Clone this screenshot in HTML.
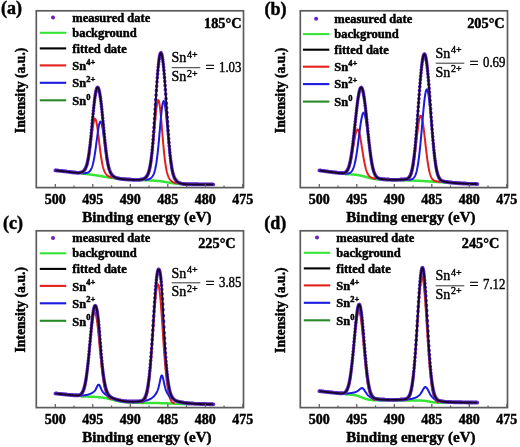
<!DOCTYPE html>
<html><head><meta charset="utf-8"><title>XPS Sn 3d</title>
<style>html,body{margin:0;padding:0;background:#fff;width:520px;height:447px;overflow:hidden}svg{display:block}text{stroke:#000;stroke-width:.45px}.fr text{stroke-width:.4px}</style>
</head><body>
<svg width="520" height="447" viewBox="0 0 520 447" font-family="'Liberation Serif', 'Times New Roman', serif" font-weight="bold" fill="#000">
<rect width="520" height="447" fill="#fff"/>
<g transform="translate(0,0)">
<path d="M80.8,173.52 L81.1,173.54 L81.4,173.57 L81.7,173.59 L82,173.62 L82.3,173.64 L82.6,173.67 L82.9,173.69 L83.2,173.72 L83.5,173.75 L83.8,173.77 L84.1,173.8 L84.4,173.83 L84.7,173.86 L85,173.89 L85.3,173.92 L85.6,173.95 L85.9,173.98 L86.2,174.01 L86.5,174.04 L86.8,174.08 L87.1,174.11 L87.4,174.14 L87.7,174.18 L88,174.21 L88.3,174.25 L88.6,174.28 L88.9,174.32 L89.2,174.36 L89.5,174.4 L89.8,174.43 L90.1,174.47 L90.4,174.51 L90.7,174.55 L91,174.59 L91.3,174.63 L91.6,174.67 L91.9,174.71 L92.2,174.76 L92.5,174.8 L92.8,174.84 L93.1,174.88 L93.4,174.93 L93.7,174.97 L94,175.02 L94.3,175.06 L94.6,175.11 L94.9,175.15 L95.2,175.2 L95.5,175.25 L95.8,175.29 L96.1,175.34 L96.4,175.39 L96.7,175.44 L97,175.49 L97.3,175.54 L97.6,175.59 L97.9,175.63 L98.2,175.68 L98.5,175.73 L98.8,175.78 L99.1,175.83 L99.4,175.89 L99.7,175.94 L100,175.99 L100.3,176.04 L100.6,176.09 L100.9,176.14 L101.2,176.19 L101.5,176.24 L101.8,176.3 L102.1,176.35 L102.4,176.4 L102.7,176.45 L103,176.5 L103.3,176.55 L103.6,176.6 L103.9,176.66 L104.2,176.71 L104.5,176.76 L104.8,176.81 L105.1,176.86 L105.4,176.91 L105.7,176.96 L106,177.01 L106.3,177.06 L106.6,177.11 L106.9,177.16 L107.2,177.21 L107.5,177.26 L107.8,177.31 L108.1,177.36 L108.4,177.41 L108.7,177.46 L109,177.5 L109.3,177.55 L109.6,177.6 L109.9,177.64 L110.2,177.69 L110.5,177.74 L110.8,177.78 L111.1,177.83 L111.4,177.87 L111.7,177.91 L112,177.96 L112.3,178 L112.6,178.04 L112.9,178.09 L113.2,178.13 L113.5,178.17 L113.8,178.21 L114.1,178.25 L114.4,178.29 L114.7,178.33 L115,178.37 L115.3,178.4 L115.6,178.44 L115.9,178.48 L116.2,178.52 L116.5,178.55 L116.8,178.59 L117.1,178.62 L117.4,178.66 L117.7,178.69 L118,178.72 L118.3,178.76 L118.6,178.79 L118.9,178.82 L119.2,178.85 L119.5,178.88 L119.8,178.91 L120.1,178.94 L120.4,178.97 L120.7,179 L121,179.03 L121.3,179.06 L121.6,179.08 L121.9,179.11 L122.2,179.14 L122.5,179.16 L122.8,179.19 L123.1,179.21 L123.4,179.24 L123.7,179.26 L124,179.29 L124.3,179.31 L124.6,179.33 L124.9,179.35 L125.2,179.37 L125.5,179.4 L125.8,179.42 L126.1,179.44 L126.4,179.46 L126.7,179.48 L127,179.5 L127.3,179.52 L127.6,179.53 L127.9,179.55 L128.2,179.57 L128.5,179.59 L128.8,179.6 L129.1,179.62 L129.4,179.64 L129.7,179.65 L130,179.67 L130.3,179.68 L130.6,179.7 L130.9,179.71 L131.2,179.73 L131.5,179.74 L131.8,179.76 L132.1,179.77 L132.4,179.78 L132.7,179.8 L133,179.81 L133.3,179.82 L133.6,179.83 L133.9,179.85 L134.2,179.86 L134.5,179.87 L134.8,179.88 L135.1,179.89 L135.4,179.9 L135.7,179.92 L136,179.93 L136.3,179.94 L136.6,179.95 L136.9,179.96 L137.2,179.97 L137.5,179.98 L137.8,179.99 L138.1,180 L138.4,180.01 L138.7,180.02 L139,180.03 L139.3,180.04 L139.6,180.05 L139.9,180.05 L140.2,180.06 L140.5,180.07 L140.8,180.08 L141.1,180.09 L141.4,180.1 L141.7,180.11 L142,180.12 L142.3,180.13 L142.6,180.14 L142.9,180.14 L143.2,180.15 L143.5,180.16 L143.8,180.17 L144.1,180.18 L144.4,180.19 L144.7,180.2 L145,180.21 L145.3,180.22 L145.6,180.23 L145.9,180.24 L146.2,180.25 L146.5,180.26 L146.8,180.27 L147.1,180.28 L147.4,180.29 L147.7,180.3 L148,180.31 L148.3,180.33 L148.6,180.34 L148.9,180.35 L149.2,180.36 L149.5,180.38 L149.8,180.39 L150.1,180.4 L150.4,180.42 L150.7,180.43 L151,180.45 L151.3,180.46 L151.6,180.48 L151.9,180.49 L152.2,180.51 L152.5,180.53 L152.8,180.55 L153.1,180.56 L153.4,180.58 L153.7,180.6 L154,180.62 L154.3,180.64 L154.6,180.67 L154.9,180.69 L155.2,180.71 L155.5,180.74 L155.8,180.76 L156.1,180.79 L156.4,180.81 L156.7,180.84 L157,180.87 L157.3,180.9 L157.6,180.93 L157.9,180.96 L158.2,180.99 L158.5,181.02 L158.8,181.05 L159.1,181.09 L159.4,181.12 L159.7,181.16 L160,181.19 L160.3,181.23 L160.6,181.27 L160.9,181.31 L161.2,181.35 L161.5,181.39 L161.8,181.43 L162.1,181.48 L162.4,181.52 L162.7,181.57 L163,181.61 L163.3,181.66 L163.6,181.7 L163.9,181.75 L164.2,181.8 L164.5,181.85 L164.8,181.9 L165.1,181.95 L165.4,182 L165.7,182.05 L166,182.1 L166.3,182.15 L166.6,182.2 L166.9,182.25 L167.2,182.3 L167.5,182.36 L167.8,182.41 L168.1,182.46 L168.4,182.51 L168.7,182.56 L169,182.61 L169.3,182.66 L169.6,182.72 L169.9,182.77 L170.2,182.81 L170.5,182.86 L170.8,182.91 L171.1,182.96 L171.4,183.01 L171.7,183.05 L172,183.1 L172.3,183.15 L172.6,183.19 L172.9,183.23 L173.2,183.28 L173.5,183.32 L173.8,183.36 L174.1,183.4 L174.4,183.44 L174.7,183.48 L175,183.51 L175.3,183.55 L175.6,183.58 L175.9,183.62 L176.2,183.65 L176.5,183.68 L176.8,183.72 L177.1,183.75 L177.4,183.78 L177.7,183.8 L178,183.83 L178.3,183.86 L178.6,183.89 L178.9,183.91 L179.2,183.93 L179.5,183.96 L179.8,183.98 L180.1,184 L180.4,184.02 L180.7,184.04 L181,184.06 L181.3,184.08 L181.6,184.1 L181.9,184.12 L182.2,184.13 L182.5,184.15 L182.8,184.16 L183.1,184.18 L183.4,184.19 L183.7,184.21 L184,184.22 L184.3,184.23 L184.6,184.24 L184.9,184.26 L185.2,184.27 L185.5,184.28 L185.8,184.29 L186.1,184.3 L186.4,184.31 L186.7,184.32 L187,184.32 L187.3,184.33 L187.6,184.34 L187.9,184.35 L188.2,184.35 L188.5,184.36 L188.8,184.37 L189.1,184.37 L189.4,184.38 L189.7,184.39 L190,184.39" fill="none" stroke="#36e436" stroke-width="2.5"/>
<path d="M77.5,172.86 L77.8,172.87 L78.1,172.88 L78.4,172.89 L78.7,172.89 L79,172.88 L79.3,172.87 L79.6,172.83 L79.9,172.79 L80.2,172.73 L80.5,172.67 L80.8,172.6 L81.1,172.52 L81.4,172.43 L81.7,172.33 L82,172.22 L82.3,172.09 L82.6,171.95 L82.9,171.79 L83.2,171.6 L83.5,171.39 L83.8,171.16 L84.1,170.88 L84.4,170.58 L84.7,170.22 L85,169.82 L85.3,169.36 L85.6,168.84 L85.9,168.25 L86.2,167.58 L86.5,166.82 L86.8,165.96 L87.1,165 L87.4,163.93 L87.7,162.74 L88,161.41 L88.3,159.96 L88.6,158.38 L88.9,156.66 L89.2,154.8 L89.5,152.82 L89.8,150.72 L90.1,148.51 L90.4,146.21 L90.7,143.83 L91,141.4 L91.3,138.94 L91.6,136.49 L91.9,134.07 L92.2,131.72 L92.5,129.46 L92.8,127.35 L93.1,125.4 L93.4,123.66 L93.7,122.14 L94,120.89 L94.3,119.93 L94.6,119.26 L94.9,118.91 L95.2,118.88 L95.5,119.17 L95.8,119.79 L96.1,120.71 L96.4,121.92 L96.7,123.41 L97,125.14 L97.3,127.09 L97.6,129.23 L97.9,131.51 L98.2,133.91 L98.5,136.4 L98.8,138.93 L99.1,141.48 L99.4,144.02 L99.7,146.52 L100,148.95 L100.3,151.29 L100.6,153.53 L100.9,155.66 L101.2,157.66 L101.5,159.54 L101.8,161.27 L102.1,162.87 L102.4,164.34 L102.7,165.68 L103,166.89 L103.3,167.99 L103.6,168.98 L103.9,169.87 L104.2,170.66 L104.5,171.37 L104.8,172.01 L105.1,172.57 L105.4,173.08 L105.7,173.54 L106,173.94 L106.3,174.31 L106.6,174.64 L106.9,174.94 L107.2,175.21 L107.5,175.46 L107.8,175.69 L108.1,175.9 L108.4,176.09 L108.7,176.27 L109,176.43 L109.3,176.58 L109.6,176.73 L109.9,176.86 L110.2,176.99 L110.5,177.11 L110.8,177.22 L111.1,177.32 L111.4,177.42 L111.7,177.51 L112,177.6 L112.3,177.68 L112.6,177.76" fill="none" stroke="#e4201c" stroke-width="2"/>
<path d="M139.9,179.77 L140.2,179.75 L140.5,179.71 L140.8,179.68 L141.1,179.63 L141.4,179.58 L141.7,179.53 L142,179.47 L142.3,179.4 L142.6,179.32 L142.9,179.24 L143.2,179.14 L143.5,179.04 L143.8,178.92 L144.1,178.79 L144.4,178.65 L144.7,178.49 L145,178.31 L145.3,178.11 L145.6,177.89 L145.9,177.64 L146.2,177.37 L146.5,177.06 L146.8,176.71 L147.1,176.32 L147.4,175.87 L147.7,175.37 L148,174.8 L148.3,174.15 L148.6,173.42 L148.9,172.59 L149.2,171.65 L149.5,170.59 L149.8,169.4 L150.1,168.07 L150.4,166.58 L150.7,164.92 L151,163.08 L151.3,161.05 L151.6,158.84 L151.9,156.43 L152.2,153.83 L152.5,151.04 L152.8,148.08 L153.1,144.94 L153.4,141.67 L153.7,138.27 L154,134.78 L154.3,131.23 L154.6,127.67 L154.9,124.13 L155.2,120.66 L155.5,117.31 L155.8,114.13 L156.1,111.18 L156.4,108.49 L156.7,106.11 L157,104.09 L157.3,102.45 L157.6,101.24 L157.9,100.48 L158.2,100.17 L158.5,100.32 L158.8,100.94 L159.1,102.01 L159.4,103.52 L159.7,105.43 L160,107.71 L160.3,110.32 L160.6,113.22 L160.9,116.37 L161.2,119.71 L161.5,123.19 L161.8,126.77 L162.1,130.39 L162.4,134.02 L162.7,137.61 L163,141.12 L163.3,144.52 L163.6,147.79 L163.9,150.9 L164.2,153.84 L164.5,156.59 L164.8,159.16 L165.1,161.53 L165.4,163.7 L165.7,165.69 L166,167.5 L166.3,169.13 L166.6,170.61 L166.9,171.93 L167.2,173.11 L167.5,174.17 L167.8,175.11 L168.1,175.95 L168.4,176.7 L168.7,177.37 L169,177.96 L169.3,178.49 L169.6,178.97 L169.9,179.4 L170.2,179.79 L170.5,180.14 L170.8,180.46 L171.1,180.75 L171.4,181.01 L171.7,181.26 L172,181.48 L172.3,181.68 L172.6,181.87 L172.9,182.05 L173.2,182.21 L173.5,182.36 L173.8,182.5 L174.1,182.63 L174.4,182.75 L174.7,182.86 L175,182.97 L175.3,183.07 L175.6,183.15 L175.9,183.24 L176.2,183.32 L176.5,183.39 L176.8,183.45" fill="none" stroke="#e4201c" stroke-width="2"/>
<path d="M82.6,173.4 L82.9,173.4 L83.2,173.39 L83.5,173.38 L83.8,173.36 L84.1,173.34 L84.4,173.31 L84.7,173.28 L85,173.25 L85.3,173.2 L85.6,173.16 L85.9,173.1 L86.2,173.04 L86.5,172.97 L86.8,172.88 L87.1,172.79 L87.4,172.68 L87.7,172.56 L88,172.42 L88.3,172.26 L88.6,172.08 L88.9,171.88 L89.2,171.64 L89.5,171.37 L89.8,171.07 L90.1,170.72 L90.4,170.32 L90.7,169.86 L91,169.35 L91.3,168.76 L91.6,168.09 L91.9,167.34 L92.2,166.5 L92.5,165.56 L92.8,164.51 L93.1,163.34 L93.4,162.06 L93.7,160.65 L94,159.12 L94.3,157.46 L94.6,155.68 L94.9,153.78 L95.2,151.78 L95.5,149.67 L95.8,147.49 L96.1,145.23 L96.4,142.93 L96.7,140.61 L97,138.3 L97.3,136.02 L97.6,133.8 L97.9,131.68 L98.2,129.68 L98.5,127.84 L98.8,126.19 L99.1,124.75 L99.4,123.55 L99.7,122.62 L100,121.96 L100.3,121.59 L100.6,121.52 L100.9,121.75 L101.2,122.28 L101.5,123.1 L101.8,124.19 L102.1,125.54 L102.4,127.12 L102.7,128.91 L103,130.89 L103.3,133.01 L103.6,135.26 L103.9,137.59 L104.2,139.98 L104.5,142.4 L104.8,144.82 L105.1,147.21 L105.4,149.55 L105.7,151.82 L106,154 L106.3,156.08 L106.6,158.05 L106.9,159.9 L107.2,161.63 L107.5,163.23 L107.8,164.71 L108.1,166.06 L108.4,167.3 L108.7,168.42 L109,169.43 L109.3,170.34 L109.6,171.16 L109.9,171.9 L110.2,172.56 L110.5,173.15 L110.8,173.68 L111.1,174.15 L111.4,174.57 L111.7,174.96 L112,175.3 L112.3,175.61 L112.6,175.89 L112.9,176.14 L113.2,176.37 L113.5,176.58 L113.8,176.78 L114.1,176.95 L114.4,177.12 L114.7,177.27 L115,177.41 L115.3,177.54 L115.6,177.67 L115.9,177.78 L116.2,177.89 L116.5,177.99 L116.8,178.08 L117.1,178.17 L117.4,178.25 L117.7,178.33 L118,178.4 L118.3,178.47 L118.6,178.53" fill="none" stroke="#1a1ae0" stroke-width="2"/>
<path d="M144.7,179.95 L145,179.92 L145.3,179.9 L145.6,179.87 L145.9,179.83 L146.2,179.79 L146.5,179.74 L146.8,179.69 L147.1,179.63 L147.4,179.57 L147.7,179.49 L148,179.41 L148.3,179.33 L148.6,179.23 L148.9,179.12 L149.2,179 L149.5,178.86 L149.8,178.71 L150.1,178.55 L150.4,178.36 L150.7,178.16 L151,177.93 L151.3,177.67 L151.6,177.39 L151.9,177.06 L152.2,176.7 L152.5,176.29 L152.8,175.83 L153.1,175.31 L153.4,174.72 L153.7,174.05 L154,173.3 L154.3,172.44 L154.6,171.48 L154.9,170.4 L155.2,169.18 L155.5,167.83 L155.8,166.31 L156.1,164.64 L156.4,162.79 L156.7,160.76 L157,158.55 L157.3,156.16 L157.6,153.58 L157.9,150.83 L158.2,147.9 L158.5,144.83 L158.8,141.62 L159.1,138.29 L159.4,134.89 L159.7,131.44 L160,127.97 L160.3,124.53 L160.6,121.17 L160.9,117.92 L161.2,114.84 L161.5,111.96 L161.8,109.35 L162.1,107.03 L162.4,105.05 L162.7,103.43 L163,102.22 L163.3,101.43 L163.6,101.08 L163.9,101.17 L164.2,101.71 L164.5,102.67 L164.8,104.06 L165.1,105.84 L165.4,107.99 L165.7,110.46 L166,113.22 L166.3,116.23 L166.6,119.45 L166.9,122.81 L167.2,126.28 L167.5,129.82 L167.8,133.37 L168.1,136.91 L168.4,140.38 L168.7,143.77 L169,147.04 L169.3,150.17 L169.6,153.15 L169.9,155.95 L170.2,158.57 L170.5,161.01 L170.8,163.26 L171.1,165.32 L171.4,167.21 L171.7,168.92 L172,170.47 L172.3,171.87 L172.6,173.13 L172.9,174.25 L173.2,175.25 L173.5,176.15 L173.8,176.95 L174.1,177.66 L174.4,178.3 L174.7,178.86 L175,179.37 L175.3,179.82 L175.6,180.22 L175.9,180.59 L176.2,180.92 L176.5,181.22 L176.8,181.49 L177.1,181.73 L177.4,181.96 L177.7,182.16 L178,182.35 L178.3,182.52 L178.6,182.68 L178.9,182.82 L179.2,182.95 L179.5,183.08 L179.8,183.19 L180.1,183.29 L180.4,183.39 L180.7,183.48 L181,183.56 L181.3,183.63 L181.6,183.7 L181.9,183.76 L182.2,183.82 L182.5,183.87" fill="none" stroke="#1a1ae0" stroke-width="2"/>
<path d="M55.3 170.41h0M55.6 170.44h0M55.9 170.47h0M56.2 170.5h0M56.5 170.53h0M56.8 170.56h0M57.1 170.6h0M57.4 170.63h0M57.7 170.66h0M58 170.69h0M58.3 170.72h0M58.6 170.76h0M58.9 170.79h0M59.2 170.82h0M59.5 170.85h0M59.8 170.88h0M60.1 170.92h0M60.4 170.95h0M60.7 170.98h0M61 171.01h0M61.3 171.05h0M61.6 171.08h0M61.9 171.11h0M62.2 171.15h0M62.5 171.18h0M62.8 171.21h0M63.1 171.25h0M63.4 171.28h0M63.7 171.32h0M64 171.35h0M64.3 171.39h0M64.6 171.42h0M64.9 171.45h0M65.2 171.49h0M65.5 171.52h0M65.8 171.56h0M66.1 171.6h0M66.4 171.63h0M66.7 171.67h0M67 171.7h0M67.3 171.74h0M67.6 171.77h0M67.9 171.81h0M68.2 171.85h0M68.5 171.88h0M68.8 171.92h0M69.1 171.96h0M69.4 171.99h0M69.7 172.03h0M70 172.07h0M70.3 172.11h0M70.6 172.14h0M70.9 172.18h0M71.2 172.22h0M71.5 172.25h0M71.8 172.29h0M72.1 172.33h0M72.4 172.36h0M72.7 172.4h0M73 172.44h0M73.3 172.47h0M73.6 172.51h0M73.9 172.54h0M74.2 172.57h0M74.5 172.6h0M74.8 172.64h0M75.1 172.67h0M75.4 172.69h0M75.7 172.72h0M76 172.75h0M76.3 172.77h0M76.6 172.79h0M76.9 172.81h0M77.2 172.82h0M77.5 172.83h0M77.8 172.84h0M78.1 172.85h0M78.4 172.84h0M78.7 172.84h0M79 172.83h0M79.3 172.81h0M79.6 172.76h0M79.9 172.7h0M80.2 172.64h0M80.5 172.56h0M80.8 172.48h0M81.1 172.38h0M81.4 172.27h0M81.7 172.15h0M82 172.02h0M82.3 171.86h0M82.6 171.69h0M82.9 171.49h0M83.2 171.27h0M83.5 171.02h0M83.8 170.74h0M84.1 170.42h0M84.4 170.06h0M84.7 169.65h0M85 169.18h0M85.3 168.65h0M85.6 168.05h0M85.9 167.37h0M86.2 166.61h0M86.5 165.74h0M86.8 164.77h0M87.1 163.68h0M87.4 162.47h0M87.7 161.12h0M88 159.62h0M88.3 157.98h0M88.6 156.18h0M88.9 154.21h0M89.2 152.09h0M89.5 149.8h0M89.8 147.35h0M90.1 144.76h0M90.4 142.02h0M90.7 139.14h0M91 136.16h0M91.3 133.07h0M91.6 129.91h0M91.9 126.7h0M92.2 123.46h0M92.5 120.22h0M92.8 117.01h0M93.1 113.86h0M93.4 110.78h0M93.7 107.82h0M94 104.99h0M94.3 102.32h0M94.6 99.83h0M94.9 97.54h0M95.2 95.46h0M95.5 93.6h0M95.8 91.98h0M96.1 90.6h0M96.4 89.47h0M96.7 88.59h0M97 87.95h0M97.3 87.57h0M97.6 87.44h0M97.9 87.55h0M98.2 87.91h0M98.5 88.51h0M98.8 89.34h0M99.1 90.4h0M99.4 91.69h0M99.7 93.2h0M100 94.92h0M100.3 96.84h0M100.6 98.97h0M100.9 101.27h0M101.2 103.75h0M101.5 106.39h0M101.8 109.16h0M102.1 112.06h0M102.4 115.06h0M102.7 118.14h0M103 121.28h0M103.3 124.45h0M103.6 127.63h0M103.9 130.8h0M104.2 133.93h0M104.5 137.01h0M104.8 140.01h0M105.1 142.92h0M105.4 145.72h0M105.7 148.39h0M106 150.93h0M106.3 153.33h0M106.6 155.58h0M106.9 157.68h0M107.2 159.63h0M107.5 161.43h0M107.8 163.09h0M108.1 164.6h0M108.4 165.98h0M108.7 167.23h0M109 168.36h0M109.3 169.38h0M109.6 170.29h0M109.9 171.12h0M110.2 171.86h0M110.5 172.52h0M110.8 173.11h0M111.1 173.65h0M111.4 174.12h0M111.7 174.55h0M112 174.94h0M112.3 175.29h0M112.6 175.6h0M112.9 175.89h0M113.2 176.15h0M113.5 176.39h0M113.8 176.6h0M114.1 176.8h0M114.4 176.99h0M114.7 177.16h0M115 177.31h0M115.3 177.46h0M115.6 177.59h0M115.9 177.71h0M116.2 177.83h0M116.5 177.94h0M116.8 178.04h0M117.1 178.13h0M117.4 178.22h0M117.7 178.3h0M118 178.38h0M118.3 178.45h0M118.6 178.52h0M118.9 178.58h0M119.2 178.64h0M119.5 178.7h0M119.8 178.75h0M120.1 178.8h0M120.4 178.85h0M120.7 178.89h0M121 178.93h0M121.3 178.97h0M121.6 179.01h0M121.9 179.05h0M122.2 179.08h0M122.5 179.12h0M122.8 179.15h0M123.1 179.18h0M123.4 179.21h0M123.7 179.24h0M124 179.26h0M124.3 179.29h0M124.6 179.31h0M124.9 179.34h0M125.2 179.36h0M125.5 179.39h0M125.8 179.41h0M126.1 179.43h0M126.4 179.45h0M126.7 179.47h0M127 179.49h0M127.3 179.51h0M127.6 179.53h0M127.9 179.55h0M128.2 179.57h0M128.5 179.58h0M128.8 179.6h0M129.1 179.62h0M129.4 179.64h0M129.7 179.65h0M130 179.67h0M130.3 179.68h0M130.6 179.7h0M130.9 179.71h0M131.2 179.73h0M131.5 179.74h0M131.8 179.75h0M132.1 179.76h0M132.4 179.78h0M132.7 179.79h0M133 179.8h0M133.3 179.81h0M133.6 179.82h0M133.9 179.83h0M134.2 179.84h0M134.5 179.85h0M134.8 179.86h0M135.1 179.86h0M135.4 179.87h0M135.7 179.87h0M136 179.88h0M136.3 179.88h0M136.6 179.88h0M136.9 179.88h0M137.2 179.88h0M137.5 179.88h0M137.8 179.87h0M138.1 179.86h0M138.4 179.85h0M138.7 179.84h0M139 179.82h0M139.3 179.8h0M139.6 179.78h0M139.9 179.75h0M140.2 179.72h0M140.5 179.68h0M140.8 179.63h0M141.1 179.58h0M141.4 179.53h0M141.7 179.46h0M142 179.39h0M142.3 179.31h0M142.6 179.22h0M142.9 179.12h0M143.2 179.01h0M143.5 178.89h0M143.8 178.75h0M144.1 178.6h0M144.4 178.42h0M144.7 178.23h0M145 178.02h0M145.3 177.79h0M145.6 177.53h0M145.9 177.23h0M146.2 176.91h0M146.5 176.54h0M146.8 176.13h0M147.1 175.67h0M147.4 175.15h0M147.7 174.56h0M148 173.9h0M148.3 173.15h0M148.6 172.31h0M148.9 171.36h0M149.2 170.28h0M149.5 169.08h0M149.8 167.73h0M150.1 166.21h0M150.4 164.52h0M150.7 162.64h0M151 160.56h0M151.3 158.27h0M151.6 155.75h0M151.9 153h0M152.2 150.02h0M152.5 146.81h0M152.8 143.36h0M153.1 139.69h0M153.4 135.8h0M153.7 131.72h0M154 127.45h0M154.3 123.03h0M154.6 118.48h0M154.9 113.84h0M155.2 109.13h0M155.5 104.4h0M155.8 99.69h0M156.1 95.03h0M156.4 90.46h0M156.7 86.03h0M157 81.77h0M157.3 77.72h0M157.6 73.9h0M157.9 70.35h0M158.2 67.08h0M158.5 64.13h0M158.8 61.51h0M159.1 59.22h0M159.4 57.28h0M159.7 55.7h0M160 54.48h0M160.3 53.62h0M160.6 53.12h0M160.9 52.98h0M161.2 53.2h0M161.5 53.77h0M161.8 54.68h0M162.1 55.94h0M162.4 57.54h0M162.7 59.47h0M163 61.73h0M163.3 64.3h0M163.6 67.16h0M163.9 70.32h0M164.2 73.74h0M164.5 77.42h0M164.8 81.32h0M165.1 85.42h0M165.4 89.69h0M165.7 94.1h0M166 98.62h0M166.3 103.22h0M166.6 107.85h0M166.9 112.49h0M167.2 117.09h0M167.5 121.63h0M167.8 126.08h0M168.1 130.4h0M168.4 134.57h0M168.7 138.58h0M169 142.39h0M169.3 146h0M169.6 149.4h0M169.9 152.58h0M170.2 155.54h0M170.5 158.28h0M170.8 160.8h0M171.1 163.11h0M171.4 165.21h0M171.7 167.12h0M172 168.85h0M172.3 170.41h0M172.6 171.81h0M172.9 173.07h0M173.2 174.19h0M173.5 175.2h0M173.8 176.09h0M174.1 176.89h0M174.4 177.61h0M174.7 178.25h0M175 178.82h0M175.3 179.33h0M175.6 179.79h0M175.9 180.21h0M176.2 180.58h0M176.5 180.92h0M176.8 181.22h0M177.1 181.5h0M177.4 181.75h0M177.7 181.98h0M178 182.19h0M178.3 182.38h0M178.6 182.56h0M178.9 182.72h0M179.2 182.87h0M179.5 183h0M179.8 183.12h0M180.1 183.24h0M180.4 183.34h0M180.7 183.43h0M181 183.52h0M181.3 183.6h0M181.6 183.67h0M181.9 183.74h0M182.2 183.8h0M182.5 183.85h0M182.8 183.91h0M183.1 183.95h0M183.4 183.99h0M183.7 184.03h0M184 184.07h0M184.3 184.1h0M184.6 184.13h0M184.9 184.16h0M185.2 184.18h0M185.5 184.2h0M185.8 184.22h0M186.1 184.24h0M186.4 184.26h0M186.7 184.27h0M187 184.29h0M187.3 184.3h0M187.6 184.31h0M187.9 184.32h0M188.2 184.34h0M188.5 184.34h0M188.8 184.35h0M189.1 184.36h0M189.4 184.37h0M189.7 184.38h0M190 184.38h0M190.3 184.39h0M190.6 184.4h0M190.9 184.4h0M191.2 184.41h0M191.5 184.41h0M191.8 184.42h0M192.1 184.42h0M192.4 184.42h0M192.7 184.43h0M193 184.43h0M193.3 184.44h0M193.6 184.44h0M193.9 184.44h0M194.2 184.44h0M194.5 184.45h0M194.8 184.45h0M195.1 184.45h0M195.4 184.46h0M195.7 184.46h0M196 184.46h0M196.3 184.46h0M196.6 184.46h0M196.9 184.47h0M197.2 184.47h0M197.5 184.47h0M197.8 184.47h0M198.1 184.47h0M198.4 184.47h0M198.7 184.48h0M199 184.48h0M199.3 184.48h0M199.6 184.48h0M199.9 184.48h0M200.2 184.48h0M200.5 184.48h0M200.8 184.48h0M201.1 184.48h0M201.4 184.49h0M201.7 184.49h0M202 184.49h0M202.3 184.49h0M202.6 184.49h0M202.9 184.49h0M203.2 184.49h0M203.5 184.49h0M203.8 184.49h0M204.1 184.49h0M204.4 184.49h0M204.7 184.49h0M205 184.49h0M205.3 184.49h0M205.6 184.49h0M205.9 184.5h0M206.2 184.5h0M206.5 184.5h0M206.8 184.5h0M207.1 184.5h0M207.4 184.5h0M207.7 184.5h0M208 184.5h0M208.3 184.5h0M208.6 184.5h0M208.9 184.5h0M209.2 184.5h0M209.5 184.5h0M209.8 184.5h0M210.1 184.5h0M210.4 184.5h0M210.7 184.5h0M211 184.5h0M211.3 184.5h0M211.6 184.5h0M211.9 184.5h0M212.2 184.5h0M212.5 184.5h0M212.8 184.5h0M213.1 184.5h0M213.4 184.5h0" fill="none" stroke="#6630cc" stroke-width="3.7" stroke-linecap="round"/>
<path d="M55.3,170.41 L55.6,170.44 L55.9,170.47 L56.2,170.5 L56.5,170.53 L56.8,170.56 L57.1,170.6 L57.4,170.63 L57.7,170.66 L58,170.69 L58.3,170.72 L58.6,170.76 L58.9,170.79 L59.2,170.82 L59.5,170.85 L59.8,170.88 L60.1,170.92 L60.4,170.95 L60.7,170.98 L61,171.01 L61.3,171.05 L61.6,171.08 L61.9,171.11 L62.2,171.15 L62.5,171.18 L62.8,171.21 L63.1,171.25 L63.4,171.28 L63.7,171.32 L64,171.35 L64.3,171.39 L64.6,171.42 L64.9,171.45 L65.2,171.49 L65.5,171.52 L65.8,171.56 L66.1,171.6 L66.4,171.63 L66.7,171.67 L67,171.7 L67.3,171.74 L67.6,171.77 L67.9,171.81 L68.2,171.85 L68.5,171.88 L68.8,171.92 L69.1,171.96 L69.4,171.99 L69.7,172.03 L70,172.07 L70.3,172.11 L70.6,172.14 L70.9,172.18 L71.2,172.22 L71.5,172.25 L71.8,172.29 L72.1,172.33 L72.4,172.36 L72.7,172.4 L73,172.44 L73.3,172.47 L73.6,172.51 L73.9,172.54 L74.2,172.57 L74.5,172.6 L74.8,172.64 L75.1,172.67 L75.4,172.69 L75.7,172.72 L76,172.75 L76.3,172.77 L76.6,172.79 L76.9,172.81 L77.2,172.82 L77.5,172.83 L77.8,172.84 L78.1,172.85 L78.4,172.84 L78.7,172.84 L79,172.83 L79.3,172.81 L79.6,172.76 L79.9,172.7 L80.2,172.64 L80.5,172.56 L80.8,172.48 L81.1,172.38 L81.4,172.27 L81.7,172.15 L82,172.02 L82.3,171.86 L82.6,171.69 L82.9,171.49 L83.2,171.27 L83.5,171.02 L83.8,170.74 L84.1,170.42 L84.4,170.06 L84.7,169.65 L85,169.18 L85.3,168.65 L85.6,168.05 L85.9,167.37 L86.2,166.61 L86.5,165.74 L86.8,164.77 L87.1,163.68 L87.4,162.47 L87.7,161.12 L88,159.62 L88.3,157.98 L88.6,156.18 L88.9,154.21 L89.2,152.09 L89.5,149.8 L89.8,147.35 L90.1,144.76 L90.4,142.02 L90.7,139.14 L91,136.16 L91.3,133.07 L91.6,129.91 L91.9,126.7 L92.2,123.46 L92.5,120.22 L92.8,117.01 L93.1,113.86 L93.4,110.78 L93.7,107.82 L94,104.99 L94.3,102.32 L94.6,99.83 L94.9,97.54 L95.2,95.46 L95.5,93.6 L95.8,91.98 L96.1,90.6 L96.4,89.47 L96.7,88.59 L97,87.95 L97.3,87.57 L97.6,87.44 L97.9,87.55 L98.2,87.91 L98.5,88.51 L98.8,89.34 L99.1,90.4 L99.4,91.69 L99.7,93.2 L100,94.92 L100.3,96.84 L100.6,98.97 L100.9,101.27 L101.2,103.75 L101.5,106.39 L101.8,109.16 L102.1,112.06 L102.4,115.06 L102.7,118.14 L103,121.28 L103.3,124.45 L103.6,127.63 L103.9,130.8 L104.2,133.93 L104.5,137.01 L104.8,140.01 L105.1,142.92 L105.4,145.72 L105.7,148.39 L106,150.93 L106.3,153.33 L106.6,155.58 L106.9,157.68 L107.2,159.63 L107.5,161.43 L107.8,163.09 L108.1,164.6 L108.4,165.98 L108.7,167.23 L109,168.36 L109.3,169.38 L109.6,170.29 L109.9,171.12 L110.2,171.86 L110.5,172.52 L110.8,173.11 L111.1,173.65 L111.4,174.12 L111.7,174.55 L112,174.94 L112.3,175.29 L112.6,175.6 L112.9,175.89 L113.2,176.15 L113.5,176.39 L113.8,176.6 L114.1,176.8 L114.4,176.99 L114.7,177.16 L115,177.31 L115.3,177.46 L115.6,177.59 L115.9,177.71 L116.2,177.83 L116.5,177.94 L116.8,178.04 L117.1,178.13 L117.4,178.22 L117.7,178.3 L118,178.38 L118.3,178.45 L118.6,178.52 L118.9,178.58 L119.2,178.64 L119.5,178.7 L119.8,178.75 L120.1,178.8 L120.4,178.85 L120.7,178.89 L121,178.93 L121.3,178.97 L121.6,179.01 L121.9,179.05 L122.2,179.08 L122.5,179.12 L122.8,179.15 L123.1,179.18 L123.4,179.21 L123.7,179.24 L124,179.26 L124.3,179.29 L124.6,179.31 L124.9,179.34 L125.2,179.36 L125.5,179.39 L125.8,179.41 L126.1,179.43 L126.4,179.45 L126.7,179.47 L127,179.49 L127.3,179.51 L127.6,179.53 L127.9,179.55 L128.2,179.57 L128.5,179.58 L128.8,179.6 L129.1,179.62 L129.4,179.64 L129.7,179.65 L130,179.67 L130.3,179.68 L130.6,179.7 L130.9,179.71 L131.2,179.73 L131.5,179.74 L131.8,179.75 L132.1,179.76 L132.4,179.78 L132.7,179.79 L133,179.8 L133.3,179.81 L133.6,179.82 L133.9,179.83 L134.2,179.84 L134.5,179.85 L134.8,179.86 L135.1,179.86 L135.4,179.87 L135.7,179.87 L136,179.88 L136.3,179.88 L136.6,179.88 L136.9,179.88 L137.2,179.88 L137.5,179.88 L137.8,179.87 L138.1,179.86 L138.4,179.85 L138.7,179.84 L139,179.82 L139.3,179.8 L139.6,179.78 L139.9,179.75 L140.2,179.72 L140.5,179.68 L140.8,179.63 L141.1,179.58 L141.4,179.53 L141.7,179.46 L142,179.39 L142.3,179.31 L142.6,179.22 L142.9,179.12 L143.2,179.01 L143.5,178.89 L143.8,178.75 L144.1,178.6 L144.4,178.42 L144.7,178.23 L145,178.02 L145.3,177.79 L145.6,177.53 L145.9,177.23 L146.2,176.91 L146.5,176.54 L146.8,176.13 L147.1,175.67 L147.4,175.15 L147.7,174.56 L148,173.9 L148.3,173.15 L148.6,172.31 L148.9,171.36 L149.2,170.28 L149.5,169.08 L149.8,167.73 L150.1,166.21 L150.4,164.52 L150.7,162.64 L151,160.56 L151.3,158.27 L151.6,155.75 L151.9,153 L152.2,150.02 L152.5,146.81 L152.8,143.36 L153.1,139.69 L153.4,135.8 L153.7,131.72 L154,127.45 L154.3,123.03 L154.6,118.48 L154.9,113.84 L155.2,109.13 L155.5,104.4 L155.8,99.69 L156.1,95.03 L156.4,90.46 L156.7,86.03 L157,81.77 L157.3,77.72 L157.6,73.9 L157.9,70.35 L158.2,67.08 L158.5,64.13 L158.8,61.51 L159.1,59.22 L159.4,57.28 L159.7,55.7 L160,54.48 L160.3,53.62 L160.6,53.12 L160.9,52.98 L161.2,53.2 L161.5,53.77 L161.8,54.68 L162.1,55.94 L162.4,57.54 L162.7,59.47 L163,61.73 L163.3,64.3 L163.6,67.16 L163.9,70.32 L164.2,73.74 L164.5,77.42 L164.8,81.32 L165.1,85.42 L165.4,89.69 L165.7,94.1 L166,98.62 L166.3,103.22 L166.6,107.85 L166.9,112.49 L167.2,117.09 L167.5,121.63 L167.8,126.08 L168.1,130.4 L168.4,134.57 L168.7,138.58 L169,142.39 L169.3,146 L169.6,149.4 L169.9,152.58 L170.2,155.54 L170.5,158.28 L170.8,160.8 L171.1,163.11 L171.4,165.21 L171.7,167.12 L172,168.85 L172.3,170.41 L172.6,171.81 L172.9,173.07 L173.2,174.19 L173.5,175.2 L173.8,176.09 L174.1,176.89 L174.4,177.61 L174.7,178.25 L175,178.82 L175.3,179.33 L175.6,179.79 L175.9,180.21 L176.2,180.58 L176.5,180.92 L176.8,181.22 L177.1,181.5 L177.4,181.75 L177.7,181.98 L178,182.19 L178.3,182.38 L178.6,182.56 L178.9,182.72 L179.2,182.87 L179.5,183 L179.8,183.12 L180.1,183.24 L180.4,183.34 L180.7,183.43 L181,183.52 L181.3,183.6 L181.6,183.67 L181.9,183.74 L182.2,183.8 L182.5,183.85 L182.8,183.91 L183.1,183.95 L183.4,183.99 L183.7,184.03 L184,184.07 L184.3,184.1 L184.6,184.13 L184.9,184.16 L185.2,184.18 L185.5,184.2 L185.8,184.22 L186.1,184.24 L186.4,184.26 L186.7,184.27 L187,184.29 L187.3,184.3 L187.6,184.31 L187.9,184.32 L188.2,184.34 L188.5,184.34 L188.8,184.35 L189.1,184.36 L189.4,184.37 L189.7,184.38 L190,184.38 L190.3,184.39 L190.6,184.4 L190.9,184.4 L191.2,184.41 L191.5,184.41 L191.8,184.42 L192.1,184.42 L192.4,184.42 L192.7,184.43 L193,184.43 L193.3,184.44 L193.6,184.44 L193.9,184.44 L194.2,184.44 L194.5,184.45 L194.8,184.45 L195.1,184.45 L195.4,184.46 L195.7,184.46 L196,184.46 L196.3,184.46 L196.6,184.46 L196.9,184.47 L197.2,184.47 L197.5,184.47 L197.8,184.47 L198.1,184.47 L198.4,184.47 L198.7,184.48 L199,184.48 L199.3,184.48 L199.6,184.48 L199.9,184.48 L200.2,184.48 L200.5,184.48 L200.8,184.48 L201.1,184.48 L201.4,184.49 L201.7,184.49 L202,184.49 L202.3,184.49 L202.6,184.49 L202.9,184.49 L203.2,184.49 L203.5,184.49 L203.8,184.49 L204.1,184.49 L204.4,184.49 L204.7,184.49 L205,184.49 L205.3,184.49 L205.6,184.49 L205.9,184.5 L206.2,184.5 L206.5,184.5 L206.8,184.5 L207.1,184.5 L207.4,184.5 L207.7,184.5 L208,184.5 L208.3,184.5 L208.6,184.5 L208.9,184.5 L209.2,184.5 L209.5,184.5 L209.8,184.5 L210.1,184.5 L210.4,184.5 L210.7,184.5 L211,184.5 L211.3,184.5 L211.6,184.5 L211.9,184.5 L212.2,184.5 L212.5,184.5 L212.8,184.5 L213.1,184.5 L213.4,184.5" fill="none" stroke="#140628" stroke-width="1.9" stroke-linejoin="round"/>
</g>
<g transform="translate(264,0)">
<path d="M80.8,174.12 L81.1,174.13 L81.4,174.14 L81.7,174.14 L82,174.15 L82.3,174.16 L82.6,174.17 L82.9,174.18 L83.2,174.19 L83.5,174.2 L83.8,174.21 L84.1,174.22 L84.4,174.23 L84.7,174.24 L85,174.26 L85.3,174.27 L85.6,174.29 L85.9,174.3 L86.2,174.32 L86.5,174.33 L86.8,174.35 L87.1,174.37 L87.4,174.39 L87.7,174.41 L88,174.43 L88.3,174.45 L88.6,174.47 L88.9,174.5 L89.2,174.52 L89.5,174.55 L89.8,174.58 L90.1,174.61 L90.4,174.64 L90.7,174.67 L91,174.7 L91.3,174.73 L91.6,174.77 L91.9,174.81 L92.2,174.84 L92.5,174.88 L92.8,174.93 L93.1,174.97 L93.4,175.01 L93.7,175.06 L94,175.11 L94.3,175.16 L94.6,175.21 L94.9,175.26 L95.2,175.32 L95.5,175.37 L95.8,175.43 L96.1,175.49 L96.4,175.55 L96.7,175.61 L97,175.68 L97.3,175.74 L97.6,175.81 L97.9,175.88 L98.2,175.95 L98.5,176.02 L98.8,176.1 L99.1,176.17 L99.4,176.25 L99.7,176.32 L100,176.4 L100.3,176.48 L100.6,176.56 L100.9,176.64 L101.2,176.72 L101.5,176.8 L101.8,176.88 L102.1,176.96 L102.4,177.04 L102.7,177.12 L103,177.21 L103.3,177.29 L103.6,177.37 L103.9,177.45 L104.2,177.53 L104.5,177.61 L104.8,177.68 L105.1,177.76 L105.4,177.84 L105.7,177.91 L106,177.99 L106.3,178.06 L106.6,178.13 L106.9,178.2 L107.2,178.27 L107.5,178.34 L107.8,178.4 L108.1,178.47 L108.4,178.53 L108.7,178.59 L109,178.65 L109.3,178.71 L109.6,178.76 L109.9,178.82 L110.2,178.87 L110.5,178.92 L110.8,178.97 L111.1,179.02 L111.4,179.06 L111.7,179.11 L112,179.15 L112.3,179.19 L112.6,179.23 L112.9,179.27 L113.2,179.31 L113.5,179.34 L113.8,179.38 L114.1,179.41 L114.4,179.44 L114.7,179.47 L115,179.5 L115.3,179.53 L115.6,179.56 L115.9,179.58 L116.2,179.61 L116.5,179.63 L116.8,179.66 L117.1,179.68 L117.4,179.7 L117.7,179.72 L118,179.74 L118.3,179.76 L118.6,179.77 L118.9,179.79 L119.2,179.81 L119.5,179.82 L119.8,179.84 L120.1,179.85 L120.4,179.87 L120.7,179.88 L121,179.89 L121.3,179.9 L121.6,179.92 L121.9,179.93 L122.2,179.94 L122.5,179.95 L122.8,179.96 L123.1,179.97 L123.4,179.98 L123.7,179.99 L124,180 L124.3,180.01 L124.6,180.02 L124.9,180.02 L125.2,180.03 L125.5,180.04 L125.8,180.05 L126.1,180.05 L126.4,180.06 L126.7,180.07 L127,180.07 L127.3,180.08 L127.6,180.09 L127.9,180.09 L128.2,180.1 L128.5,180.11 L128.8,180.11 L129.1,180.12 L129.4,180.13 L129.7,180.13 L130,180.14 L130.3,180.14 L130.6,180.15 L130.9,180.15 L131.2,180.16 L131.5,180.17 L131.8,180.17 L132.1,180.18 L132.4,180.18 L132.7,180.19 L133,180.19 L133.3,180.2 L133.6,180.21 L133.9,180.21 L134.2,180.22 L134.5,180.22 L134.8,180.23 L135.1,180.24 L135.4,180.24 L135.7,180.25 L136,180.25 L136.3,180.26 L136.6,180.27 L136.9,180.27 L137.2,180.28 L137.5,180.28 L137.8,180.29 L138.1,180.3 L138.4,180.3 L138.7,180.31 L139,180.32 L139.3,180.32 L139.6,180.33 L139.9,180.34 L140.2,180.34 L140.5,180.35 L140.8,180.36 L141.1,180.37 L141.4,180.37 L141.7,180.38 L142,180.39 L142.3,180.4 L142.6,180.4 L142.9,180.41 L143.2,180.42 L143.5,180.43 L143.8,180.44 L144.1,180.44 L144.4,180.45 L144.7,180.46 L145,180.47 L145.3,180.48 L145.6,180.49 L145.9,180.5 L146.2,180.51 L146.5,180.52 L146.8,180.53 L147.1,180.54 L147.4,180.55 L147.7,180.56 L148,180.57 L148.3,180.58 L148.6,180.59 L148.9,180.6 L149.2,180.61 L149.5,180.62 L149.8,180.63 L150.1,180.64 L150.4,180.65 L150.7,180.66 L151,180.68 L151.3,180.69 L151.6,180.7 L151.9,180.71 L152.2,180.72 L152.5,180.74 L152.8,180.75 L153.1,180.76 L153.4,180.77 L153.7,180.79 L154,180.8 L154.3,180.81 L154.6,180.83 L154.9,180.84 L155.2,180.86 L155.5,180.87 L155.8,180.88 L156.1,180.9 L156.4,180.91 L156.7,180.93 L157,180.94 L157.3,180.96 L157.6,180.97 L157.9,180.99 L158.2,181 L158.5,181.02 L158.8,181.04 L159.1,181.05 L159.4,181.07 L159.7,181.09 L160,181.1 L160.3,181.12 L160.6,181.14 L160.9,181.15 L161.2,181.17 L161.5,181.19 L161.8,181.21 L162.1,181.22 L162.4,181.24 L162.7,181.26 L163,181.28 L163.3,181.3 L163.6,181.32 L163.9,181.33 L164.2,181.35 L164.5,181.37 L164.8,181.39 L165.1,181.41 L165.4,181.43 L165.7,181.45 L166,181.47 L166.3,181.49 L166.6,181.51 L166.9,181.53 L167.2,181.55 L167.5,181.57 L167.8,181.59 L168.1,181.61 L168.4,181.63 L168.7,181.65 L169,181.67 L169.3,181.7 L169.6,181.72 L169.9,181.74 L170.2,181.76 L170.5,181.78 L170.8,181.8 L171.1,181.82 L171.4,181.84 L171.7,181.87 L172,181.89 L172.3,181.91 L172.6,181.93 L172.9,181.95 L173.2,181.98 L173.5,182 L173.8,182.02 L174.1,182.04 L174.4,182.06 L174.7,182.09 L175,182.11 L175.3,182.13 L175.6,182.15 L175.9,182.18 L176.2,182.2 L176.5,182.22 L176.8,182.24 L177.1,182.26 L177.4,182.29 L177.7,182.31 L178,182.33 L178.3,182.35 L178.6,182.37 L178.9,182.4 L179.2,182.42 L179.5,182.44 L179.8,182.46 L180.1,182.48 L180.4,182.51 L180.7,182.53 L181,182.55 L181.3,182.57 L181.6,182.59 L181.9,182.61 L182.2,182.64 L182.5,182.66 L182.8,182.68 L183.1,182.7 L183.4,182.72 L183.7,182.74 L184,182.76 L184.3,182.78 L184.6,182.8 L184.9,182.82 L185.2,182.84 L185.5,182.86 L185.8,182.88 L186.1,182.9 L186.4,182.92 L186.7,182.94 L187,182.96 L187.3,182.98 L187.6,183 L187.9,183.02 L188.2,183.04 L188.5,183.06 L188.8,183.08 L189.1,183.1 L189.4,183.12 L189.7,183.13 L190,183.15" fill="none" stroke="#36e436" stroke-width="2.5"/>
<path d="M75.1,173.18 L75.4,173.21 L75.7,173.25 L76,173.28 L76.3,173.32 L76.6,173.35 L76.9,173.38 L77.2,173.41 L77.5,173.44 L77.8,173.47 L78.1,173.49 L78.4,173.51 L78.7,173.52 L79,173.52 L79.3,173.52 L79.6,173.47 L79.9,173.4 L80.2,173.32 L80.5,173.23 L80.8,173.11 L81.1,172.98 L81.4,172.82 L81.7,172.63 L82,172.41 L82.3,172.15 L82.6,171.86 L82.9,171.51 L83.2,171.12 L83.5,170.66 L83.8,170.15 L84.1,169.57 L84.4,168.91 L84.7,168.18 L85,167.37 L85.3,166.47 L85.6,165.48 L85.9,164.39 L86.2,163.22 L86.5,161.95 L86.8,160.59 L87.1,159.14 L87.4,157.61 L87.7,156 L88,154.32 L88.3,152.58 L88.6,150.79 L88.9,148.97 L89.2,147.13 L89.5,145.29 L89.8,143.46 L90.1,141.66 L90.4,139.92 L90.7,138.26 L91,136.68 L91.3,135.23 L91.6,133.9 L91.9,132.72 L92.2,131.71 L92.5,130.88 L92.8,130.24 L93.1,129.8 L93.4,129.57 L93.7,129.55 L94,129.75 L94.3,130.15 L94.6,130.77 L94.9,131.58 L95.2,132.57 L95.5,133.74 L95.8,135.08 L96.1,136.55 L96.4,138.15 L96.7,139.86 L97,141.65 L97.3,143.51 L97.6,145.42 L97.9,147.35 L98.2,149.29 L98.5,151.22 L98.8,153.13 L99.1,155 L99.4,156.81 L99.7,158.56 L100,160.24 L100.3,161.84 L100.6,163.35 L100.9,164.77 L101.2,166.1 L101.5,167.33 L101.8,168.48 L102.1,169.53 L102.4,170.49 L102.7,171.36 L103,172.16 L103.3,172.88 L103.6,173.52 L103.9,174.1 L104.2,174.62 L104.5,175.09 L104.8,175.5 L105.1,175.86 L105.4,176.19 L105.7,176.48 L106,176.74 L106.3,176.97 L106.6,177.17 L106.9,177.35 L107.2,177.52 L107.5,177.66 L107.8,177.8 L108.1,177.92 L108.4,178.03 L108.7,178.13 L109,178.22 L109.3,178.31 L109.6,178.39 L109.9,178.46 L110.2,178.54 L110.5,178.6 L110.8,178.67 L111.1,178.73 L111.4,178.79 L111.7,178.84 L112,178.89" fill="none" stroke="#e4201c" stroke-width="2"/>
<path d="M136.6,179.97 L136.9,179.97 L137.2,179.96 L137.5,179.96 L137.8,179.95 L138.1,179.94 L138.4,179.94 L138.7,179.93 L139,179.92 L139.3,179.91 L139.6,179.9 L139.9,179.88 L140.2,179.87 L140.5,179.85 L140.8,179.83 L141.1,179.8 L141.4,179.76 L141.7,179.72 L142,179.68 L142.3,179.62 L142.6,179.54 L142.9,179.46 L143.2,179.35 L143.5,179.23 L143.8,179.08 L144.1,178.9 L144.4,178.69 L144.7,178.44 L145,178.15 L145.3,177.81 L145.6,177.41 L145.9,176.94 L146.2,176.41 L146.5,175.8 L146.8,175.11 L147.1,174.32 L147.4,173.42 L147.7,172.43 L148,171.31 L148.3,170.08 L148.6,168.71 L148.9,167.22 L149.2,165.59 L149.5,163.83 L149.8,161.94 L150.1,159.91 L150.4,157.76 L150.7,155.5 L151,153.12 L151.3,150.65 L151.6,148.11 L151.9,145.5 L152.2,142.85 L152.5,140.19 L152.8,137.53 L153.1,134.91 L153.4,132.35 L153.7,129.87 L154,127.52 L154.3,125.31 L154.6,123.28 L154.9,121.45 L155.2,119.84 L155.5,118.48 L155.8,117.38 L156.1,116.56 L156.4,116.03 L156.7,115.8 L157,115.88 L157.3,116.25 L157.6,116.93 L157.9,117.89 L158.2,119.12 L158.5,120.61 L158.8,122.34 L159.1,124.29 L159.4,126.42 L159.7,128.72 L160,131.15 L160.3,133.69 L160.6,136.31 L160.9,138.98 L161.2,141.67 L161.5,144.36 L161.8,147.03 L162.1,149.64 L162.4,152.19 L162.7,154.65 L163,157.02 L163.3,159.27 L163.6,161.4 L163.9,163.41 L164.2,165.28 L164.5,167.02 L164.8,168.62 L165.1,170.09 L165.4,171.43 L165.7,172.65 L166,173.75 L166.3,174.73 L166.6,175.61 L166.9,176.4 L167.2,177.09 L167.5,177.7 L167.8,178.23 L168.1,178.7 L168.4,179.1 L168.7,179.45 L169,179.76 L169.3,180.02 L169.6,180.25 L169.9,180.45 L170.2,180.61 L170.5,180.76 L170.8,180.89 L171.1,181 L171.4,181.09 L171.7,181.18 L172,181.25 L172.3,181.32 L172.6,181.38 L172.9,181.43 L173.2,181.48 L173.5,181.53 L173.8,181.58 L174.1,181.62 L174.4,181.66 L174.7,181.7 L175,181.73 L175.3,181.77 L175.6,181.8 L175.9,181.84 L176.2,181.87 L176.5,181.91 L176.8,181.94" fill="none" stroke="#e4201c" stroke-width="2"/>
<path d="M79.6,173.75 L79.9,173.75 L80.2,173.74 L80.5,173.73 L80.8,173.72 L81.1,173.71 L81.4,173.7 L81.7,173.69 L82,173.68 L82.3,173.66 L82.6,173.64 L82.9,173.61 L83.2,173.59 L83.5,173.55 L83.8,173.51 L84.1,173.46 L84.4,173.4 L84.7,173.33 L85,173.24 L85.3,173.14 L85.6,173.02 L85.9,172.88 L86.2,172.71 L86.5,172.51 L86.8,172.28 L87.1,172.01 L87.4,171.7 L87.7,171.34 L88,170.93 L88.3,170.46 L88.6,169.92 L88.9,169.31 L89.2,168.63 L89.5,167.86 L89.8,167 L90.1,166.05 L90.4,165 L90.7,163.84 L91,162.58 L91.3,161.21 L91.6,159.72 L91.9,158.13 L92.2,156.42 L92.5,154.6 L92.8,152.68 L93.1,150.67 L93.4,148.56 L93.7,146.37 L94,144.11 L94.3,141.8 L94.6,139.44 L94.9,137.07 L95.2,134.69 L95.5,132.33 L95.8,130.01 L96.1,127.74 L96.4,125.56 L96.7,123.48 L97,121.53 L97.3,119.73 L97.6,118.09 L97.9,116.64 L98.2,115.4 L98.5,114.38 L98.8,113.59 L99.1,113.05 L99.4,112.75 L99.7,112.71 L100,112.93 L100.3,113.4 L100.6,114.13 L100.9,115.09 L101.2,116.29 L101.5,117.7 L101.8,119.32 L102.1,121.12 L102.4,123.09 L102.7,125.2 L103,127.43 L103.3,129.77 L103.6,132.18 L103.9,134.65 L104.2,137.15 L104.5,139.66 L104.8,142.16 L105.1,144.64 L105.4,147.07 L105.7,149.45 L106,151.75 L106.3,153.97 L106.6,156.09 L106.9,158.11 L107.2,160.03 L107.5,161.83 L107.8,163.51 L108.1,165.09 L108.4,166.54 L108.7,167.89 L109,169.12 L109.3,170.25 L109.6,171.28 L109.9,172.21 L110.2,173.05 L110.5,173.8 L110.8,174.47 L111.1,175.08 L111.4,175.61 L111.7,176.08 L112,176.5 L112.3,176.87 L112.6,177.19 L112.9,177.48 L113.2,177.72 L113.5,177.94 L113.8,178.13 L114.1,178.3 L114.4,178.44 L114.7,178.57 L115,178.68 L115.3,178.78 L115.6,178.87 L115.9,178.94 L116.2,179.01 L116.5,179.07 L116.8,179.13 L117.1,179.18 L117.4,179.22 L117.7,179.27 L118,179.31 L118.3,179.34 L118.6,179.38 L118.9,179.41 L119.2,179.44 L119.5,179.47 L119.8,179.49" fill="none" stroke="#1a1ae0" stroke-width="2"/>
<path d="M142.6,179.91 L142.9,179.9 L143.2,179.89 L143.5,179.88 L143.8,179.87 L144.1,179.86 L144.4,179.84 L144.7,179.82 L145,179.8 L145.3,179.77 L145.6,179.74 L145.9,179.71 L146.2,179.67 L146.5,179.62 L146.8,179.56 L147.1,179.49 L147.4,179.4 L147.7,179.3 L148,179.18 L148.3,179.03 L148.6,178.86 L148.9,178.66 L149.2,178.43 L149.5,178.15 L149.8,177.83 L150.1,177.46 L150.4,177.02 L150.7,176.52 L151,175.95 L151.3,175.29 L151.6,174.54 L151.9,173.69 L152.2,172.74 L152.5,171.67 L152.8,170.47 L153.1,169.14 L153.4,167.66 L153.7,166.04 L154,164.26 L154.3,162.33 L154.6,160.23 L154.9,157.97 L155.2,155.54 L155.5,152.96 L155.8,150.22 L156.1,147.32 L156.4,144.3 L156.7,141.14 L157,137.88 L157.3,134.52 L157.6,131.09 L157.9,127.62 L158.2,124.12 L158.5,120.63 L158.8,117.18 L159.1,113.8 L159.4,110.52 L159.7,107.36 L160,104.38 L160.3,101.58 L160.6,99.02 L160.9,96.71 L161.2,94.68 L161.5,92.96 L161.8,91.57 L162.1,90.51 L162.4,89.82 L162.7,89.48 L163,89.52 L163.3,89.93 L163.6,90.7 L163.9,91.82 L164.2,93.29 L164.5,95.07 L164.8,97.17 L165.1,99.54 L165.4,102.17 L165.7,105.01 L166,108.06 L166.3,111.26 L166.6,114.59 L166.9,118.02 L167.2,121.51 L167.5,125.04 L167.8,128.57 L168.1,132.08 L168.4,135.53 L168.7,138.92 L169,142.21 L169.3,145.39 L169.6,148.44 L169.9,151.35 L170.2,154.11 L170.5,156.72 L170.8,159.16 L171.1,161.44 L171.4,163.56 L171.7,165.52 L172,167.31 L172.3,168.95 L172.6,170.45 L172.9,171.8 L173.2,173.02 L173.5,174.11 L173.8,175.09 L174.1,175.96 L174.4,176.74 L174.7,177.42 L175,178.02 L175.3,178.55 L175.6,179.01 L175.9,179.41 L176.2,179.76 L176.5,180.07 L176.8,180.33 L177.1,180.56 L177.4,180.76 L177.7,180.93 L178,181.09 L178.3,181.22 L178.6,181.33 L178.9,181.44 L179.2,181.53 L179.5,181.61 L179.8,181.68 L180.1,181.75 L180.4,181.81 L180.7,181.86 L181,181.91 L181.3,181.96 L181.6,182.01 L181.9,182.05 L182.2,182.09 L182.5,182.13 L182.8,182.17" fill="none" stroke="#1a1ae0" stroke-width="2"/>
<path d="M55.3 170.47h0M55.6 170.51h0M55.9 170.55h0M56.2 170.6h0M56.5 170.64h0M56.8 170.68h0M57.1 170.72h0M57.4 170.77h0M57.7 170.81h0M58 170.85h0M58.3 170.89h0M58.6 170.94h0M58.9 170.98h0M59.2 171.02h0M59.5 171.06h0M59.8 171.1h0M60.1 171.14h0M60.4 171.19h0M60.7 171.23h0M61 171.27h0M61.3 171.31h0M61.6 171.35h0M61.9 171.39h0M62.2 171.43h0M62.5 171.47h0M62.8 171.51h0M63.1 171.55h0M63.4 171.59h0M63.7 171.63h0M64 171.67h0M64.3 171.71h0M64.6 171.75h0M64.9 171.79h0M65.2 171.83h0M65.5 171.87h0M65.8 171.9h0M66.1 171.94h0M66.4 171.98h0M66.7 172.02h0M67 172.06h0M67.3 172.09h0M67.6 172.13h0M67.9 172.17h0M68.2 172.2h0M68.5 172.24h0M68.8 172.28h0M69.1 172.31h0M69.4 172.35h0M69.7 172.38h0M70 172.42h0M70.3 172.45h0M70.6 172.49h0M70.9 172.52h0M71.2 172.55h0M71.5 172.59h0M71.8 172.62h0M72.1 172.66h0M72.4 172.69h0M72.7 172.72h0M73 172.75h0M73.3 172.79h0M73.6 172.82h0M73.9 172.85h0M74.2 172.88h0M74.5 172.91h0M74.8 172.94h0M75.1 172.97h0M75.4 173h0M75.7 173.03h0M76 173.06h0M76.3 173.08h0M76.6 173.11h0M76.9 173.13h0M77.2 173.15h0M77.5 173.17h0M77.8 173.19h0M78.1 173.2h0M78.4 173.2h0M78.7 173.21h0M79 173.2h0M79.3 173.19h0M79.6 173.12h0M79.9 173.04h0M80.2 172.95h0M80.5 172.84h0M80.8 172.71h0M81.1 172.56h0M81.4 172.38h0M81.7 172.18h0M82 171.94h0M82.3 171.65h0M82.6 171.33h0M82.9 170.95h0M83.2 170.52h0M83.5 170.02h0M83.8 169.45h0M84.1 168.81h0M84.4 168.08h0M84.7 167.27h0M85 166.35h0M85.3 165.34h0M85.6 164.21h0M85.9 162.97h0M86.2 161.61h0M86.5 160.13h0M86.8 158.52h0M87.1 156.79h0M87.4 154.92h0M87.7 152.93h0M88 150.82h0M88.3 148.59h0M88.6 146.24h0M88.9 143.78h0M89.2 141.23h0M89.5 138.59h0M89.8 135.88h0M90.1 133.11h0M90.4 130.29h0M90.7 127.43h0M91 124.57h0M91.3 121.7h0M91.6 118.85h0M91.9 116.04h0M92.2 113.29h0M92.5 110.6h0M92.8 108h0M93.1 105.5h0M93.4 103.11h0M93.7 100.86h0M94 98.75h0M94.3 96.79h0M94.6 95h0M94.9 93.38h0M95.2 91.95h0M95.5 90.7h0M95.8 89.65h0M96.1 88.8h0M96.4 88.16h0M96.7 87.73h0M97 87.5h0M97.3 87.49h0M97.6 87.7h0M97.9 88.11h0M98.2 88.74h0M98.5 89.58h0M98.8 90.62h0M99.1 91.87h0M99.4 93.32h0M99.7 94.95h0M100 96.77h0M100.3 98.76h0M100.6 100.92h0M100.9 103.23h0M101.2 105.67h0M101.5 108.24h0M101.8 110.92h0M102.1 113.69h0M102.4 116.53h0M102.7 119.44h0M103 122.39h0M103.3 125.36h0M103.6 128.33h0M103.9 131.3h0M104.2 134.24h0M104.5 137.14h0M104.8 139.97h0M105.1 142.74h0M105.4 145.42h0M105.7 148.01h0M106 150.5h0M106.3 152.87h0M106.6 155.13h0M106.9 157.26h0M107.2 159.27h0M107.5 161.15h0M107.8 162.91h0M108.1 164.53h0M108.4 166.04h0M108.7 167.42h0M109 168.69h0M109.3 169.85h0M109.6 170.9h0M109.9 171.85h0M110.2 172.71h0M110.5 173.48h0M110.8 174.17h0M111.1 174.78h0M111.4 175.33h0M111.7 175.81h0M112 176.24h0M112.3 176.61h0M112.6 176.95h0M112.9 177.24h0M113.2 177.49h0M113.5 177.72h0M113.8 177.92h0M114.1 178.09h0M114.4 178.24h0M114.7 178.37h0M115 178.49h0M115.3 178.59h0M115.6 178.69h0M115.9 178.77h0M116.2 178.84h0M116.5 178.91h0M116.8 178.97h0M117.1 179.02h0M117.4 179.07h0M117.7 179.12h0M118 179.16h0M118.3 179.2h0M118.6 179.24h0M118.9 179.28h0M119.2 179.31h0M119.5 179.34h0M119.8 179.37h0M120.1 179.4h0M120.4 179.42h0M120.7 179.45h0M121 179.47h0M121.3 179.5h0M121.6 179.52h0M121.9 179.54h0M122.2 179.56h0M122.5 179.58h0M122.8 179.6h0M123.1 179.62h0M123.4 179.63h0M123.7 179.65h0M124 179.66h0M124.3 179.68h0M124.6 179.69h0M124.9 179.7h0M125.2 179.72h0M125.5 179.73h0M125.8 179.74h0M126.1 179.75h0M126.4 179.76h0M126.7 179.77h0M127 179.77h0M127.3 179.78h0M127.6 179.79h0M127.9 179.79h0M128.2 179.8h0M128.5 179.8h0M128.8 179.81h0M129.1 179.81h0M129.4 179.81h0M129.7 179.81h0M130 179.81h0M130.3 179.82h0M130.6 179.82h0M130.9 179.82h0M131.2 179.81h0M131.5 179.81h0M131.8 179.81h0M132.1 179.81h0M132.4 179.8h0M132.7 179.8h0M133 179.79h0M133.3 179.79h0M133.6 179.78h0M133.9 179.78h0M134.2 179.77h0M134.5 179.76h0M134.8 179.75h0M135.1 179.75h0M135.4 179.74h0M135.7 179.73h0M136 179.72h0M136.3 179.71h0M136.6 179.69h0M136.9 179.68h0M137.2 179.67h0M137.5 179.66h0M137.8 179.64h0M138.1 179.63h0M138.4 179.61h0M138.7 179.59h0M139 179.57h0M139.3 179.55h0M139.6 179.53h0M139.9 179.5h0M140.2 179.48h0M140.5 179.45h0M140.8 179.41h0M141.1 179.37h0M141.4 179.32h0M141.7 179.27h0M142 179.21h0M142.3 179.13h0M142.6 179.04h0M142.9 178.94h0M143.2 178.82h0M143.5 178.68h0M143.8 178.51h0M144.1 178.31h0M144.4 178.07h0M144.7 177.79h0M145 177.47h0M145.3 177.1h0M145.6 176.66h0M145.9 176.15h0M146.2 175.57h0M146.5 174.9h0M146.8 174.13h0M147.1 173.26h0M147.4 172.28h0M147.7 171.17h0M148 169.92h0M148.3 168.53h0M148.6 166.99h0M148.9 165.28h0M149.2 163.41h0M149.5 161.36h0M149.8 159.14h0M150.1 156.73h0M150.4 154.13h0M150.7 151.35h0M151 148.39h0M151.3 145.26h0M151.6 141.95h0M151.9 138.48h0M152.2 134.87h0M152.5 131.12h0M152.8 127.25h0M153.1 123.28h0M153.4 119.23h0M153.7 115.13h0M154 110.98h0M154.3 106.83h0M154.6 102.68h0M154.9 98.57h0M155.2 94.53h0M155.5 90.56h0M155.8 86.71h0M156.1 82.99h0M156.4 79.41h0M156.7 76.02h0M157 72.81h0M157.3 69.82h0M157.6 67.05h0M157.9 64.52h0M158.2 62.24h0M158.5 60.23h0M158.8 58.49h0M159.1 57.03h0M159.4 55.87h0M159.7 54.99h0M160 54.42h0M160.3 54.16h0M160.6 54.19h0M160.9 54.54h0M161.2 55.18h0M161.5 56.14h0M161.8 57.39h0M162.1 58.93h0M162.4 60.77h0M162.7 62.88h0M163 65.26h0M163.3 67.9h0M163.6 70.78h0M163.9 73.89h0M164.2 77.21h0M164.5 80.72h0M164.8 84.4h0M165.1 88.22h0M165.4 92.17h0M165.7 96.21h0M166 100.34h0M166.3 104.5h0M166.6 108.7h0M166.9 112.89h0M167.2 117.05h0M167.5 121.17h0M167.8 125.21h0M168.1 129.16h0M168.4 133h0M168.7 136.72h0M169 140.29h0M169.3 143.71h0M169.6 146.97h0M169.9 150.06h0M170.2 152.97h0M170.5 155.7h0M170.8 158.25h0M171.1 160.62h0M171.4 162.81h0M171.7 164.83h0M172 166.67h0M172.3 168.36h0M172.6 169.89h0M172.9 171.28h0M173.2 172.53h0M173.5 173.65h0M173.8 174.65h0M174.1 175.54h0M174.4 176.33h0M174.7 177.03h0M175 177.65h0M175.3 178.19h0M175.6 178.66h0M175.9 179.08h0M176.2 179.44h0M176.5 179.75h0M176.8 180.03h0M177.1 180.27h0M177.4 180.48h0M177.7 180.66h0M178 180.83h0M178.3 180.97h0M178.6 181.09h0M178.9 181.2h0M179.2 181.3h0M179.5 181.39h0M179.8 181.47h0M180.1 181.55h0M180.4 181.61h0M180.7 181.68h0M181 181.74h0M181.3 181.79h0M181.6 181.85h0M181.9 181.9h0M182.2 181.94h0M182.5 181.99h0M182.8 182.04h0M183.1 182.08h0M183.4 182.12h0M183.7 182.17h0M184 182.21h0M184.3 182.25h0M184.6 182.29h0M184.9 182.33h0M185.2 182.37h0M185.5 182.4h0M185.8 182.44h0M186.1 182.48h0M186.4 182.51h0M186.7 182.55h0M187 182.58h0M187.3 182.62h0M187.6 182.65h0M187.9 182.68h0M188.2 182.72h0M188.5 182.75h0M188.8 182.78h0M189.1 182.81h0M189.4 182.84h0M189.7 182.87h0M190 182.9h0M190.3 182.93h0M190.6 182.96h0M190.9 182.98h0M191.2 183.01h0M191.5 183.04h0M191.8 183.06h0M192.1 183.09h0M192.4 183.11h0M192.7 183.14h0M193 183.16h0M193.3 183.19h0M193.6 183.21h0M193.9 183.23h0M194.2 183.26h0M194.5 183.28h0M194.8 183.3h0M195.1 183.32h0M195.4 183.34h0M195.7 183.36h0M196 183.38h0M196.3 183.4h0M196.6 183.42h0M196.9 183.44h0M197.2 183.46h0M197.5 183.48h0M197.8 183.49h0M198.1 183.51h0M198.4 183.53h0M198.7 183.54h0M199 183.56h0M199.3 183.58h0M199.6 183.59h0M199.9 183.61h0M200.2 183.62h0M200.5 183.64h0M200.8 183.65h0M201.1 183.67h0M201.4 183.68h0M201.7 183.69h0M202 183.71h0M202.3 183.72h0M202.6 183.73h0M202.9 183.75h0M203.2 183.76h0M203.5 183.77h0M203.8 183.78h0M204.1 183.79h0M204.4 183.81h0M204.7 183.82h0M205 183.83h0M205.3 183.84h0M205.6 183.85h0M205.9 183.86h0M206.2 183.87h0M206.5 183.88h0M206.8 183.89h0M207.1 183.9h0M207.4 183.91h0M207.7 183.92h0M208 183.93h0M208.3 183.94h0M208.6 183.95h0M208.9 183.95h0M209.2 183.96h0M209.5 183.97h0M209.8 183.98h0M210.1 183.99h0M210.4 184h0M210.7 184h0M211 184.01h0M211.3 184.02h0M211.6 184.02h0M211.9 184.03h0M212.2 184.04h0M212.5 184.05h0M212.8 184.05h0M213.1 184.06h0M213.4 184.07h0" fill="none" stroke="#6630cc" stroke-width="3.7" stroke-linecap="round"/>
<path d="M55.3,170.47 L55.6,170.51 L55.9,170.55 L56.2,170.6 L56.5,170.64 L56.8,170.68 L57.1,170.72 L57.4,170.77 L57.7,170.81 L58,170.85 L58.3,170.89 L58.6,170.94 L58.9,170.98 L59.2,171.02 L59.5,171.06 L59.8,171.1 L60.1,171.14 L60.4,171.19 L60.7,171.23 L61,171.27 L61.3,171.31 L61.6,171.35 L61.9,171.39 L62.2,171.43 L62.5,171.47 L62.8,171.51 L63.1,171.55 L63.4,171.59 L63.7,171.63 L64,171.67 L64.3,171.71 L64.6,171.75 L64.9,171.79 L65.2,171.83 L65.5,171.87 L65.8,171.9 L66.1,171.94 L66.4,171.98 L66.7,172.02 L67,172.06 L67.3,172.09 L67.6,172.13 L67.9,172.17 L68.2,172.2 L68.5,172.24 L68.8,172.28 L69.1,172.31 L69.4,172.35 L69.7,172.38 L70,172.42 L70.3,172.45 L70.6,172.49 L70.9,172.52 L71.2,172.55 L71.5,172.59 L71.8,172.62 L72.1,172.66 L72.4,172.69 L72.7,172.72 L73,172.75 L73.3,172.79 L73.6,172.82 L73.9,172.85 L74.2,172.88 L74.5,172.91 L74.8,172.94 L75.1,172.97 L75.4,173 L75.7,173.03 L76,173.06 L76.3,173.08 L76.6,173.11 L76.9,173.13 L77.2,173.15 L77.5,173.17 L77.8,173.19 L78.1,173.2 L78.4,173.2 L78.7,173.21 L79,173.2 L79.3,173.19 L79.6,173.12 L79.9,173.04 L80.2,172.95 L80.5,172.84 L80.8,172.71 L81.1,172.56 L81.4,172.38 L81.7,172.18 L82,171.94 L82.3,171.65 L82.6,171.33 L82.9,170.95 L83.2,170.52 L83.5,170.02 L83.8,169.45 L84.1,168.81 L84.4,168.08 L84.7,167.27 L85,166.35 L85.3,165.34 L85.6,164.21 L85.9,162.97 L86.2,161.61 L86.5,160.13 L86.8,158.52 L87.1,156.79 L87.4,154.92 L87.7,152.93 L88,150.82 L88.3,148.59 L88.6,146.24 L88.9,143.78 L89.2,141.23 L89.5,138.59 L89.8,135.88 L90.1,133.11 L90.4,130.29 L90.7,127.43 L91,124.57 L91.3,121.7 L91.6,118.85 L91.9,116.04 L92.2,113.29 L92.5,110.6 L92.8,108 L93.1,105.5 L93.4,103.11 L93.7,100.86 L94,98.75 L94.3,96.79 L94.6,95 L94.9,93.38 L95.2,91.95 L95.5,90.7 L95.8,89.65 L96.1,88.8 L96.4,88.16 L96.7,87.73 L97,87.5 L97.3,87.49 L97.6,87.7 L97.9,88.11 L98.2,88.74 L98.5,89.58 L98.8,90.62 L99.1,91.87 L99.4,93.32 L99.7,94.95 L100,96.77 L100.3,98.76 L100.6,100.92 L100.9,103.23 L101.2,105.67 L101.5,108.24 L101.8,110.92 L102.1,113.69 L102.4,116.53 L102.7,119.44 L103,122.39 L103.3,125.36 L103.6,128.33 L103.9,131.3 L104.2,134.24 L104.5,137.14 L104.8,139.97 L105.1,142.74 L105.4,145.42 L105.7,148.01 L106,150.5 L106.3,152.87 L106.6,155.13 L106.9,157.26 L107.2,159.27 L107.5,161.15 L107.8,162.91 L108.1,164.53 L108.4,166.04 L108.7,167.42 L109,168.69 L109.3,169.85 L109.6,170.9 L109.9,171.85 L110.2,172.71 L110.5,173.48 L110.8,174.17 L111.1,174.78 L111.4,175.33 L111.7,175.81 L112,176.24 L112.3,176.61 L112.6,176.95 L112.9,177.24 L113.2,177.49 L113.5,177.72 L113.8,177.92 L114.1,178.09 L114.4,178.24 L114.7,178.37 L115,178.49 L115.3,178.59 L115.6,178.69 L115.9,178.77 L116.2,178.84 L116.5,178.91 L116.8,178.97 L117.1,179.02 L117.4,179.07 L117.7,179.12 L118,179.16 L118.3,179.2 L118.6,179.24 L118.9,179.28 L119.2,179.31 L119.5,179.34 L119.8,179.37 L120.1,179.4 L120.4,179.42 L120.7,179.45 L121,179.47 L121.3,179.5 L121.6,179.52 L121.9,179.54 L122.2,179.56 L122.5,179.58 L122.8,179.6 L123.1,179.62 L123.4,179.63 L123.7,179.65 L124,179.66 L124.3,179.68 L124.6,179.69 L124.9,179.7 L125.2,179.72 L125.5,179.73 L125.8,179.74 L126.1,179.75 L126.4,179.76 L126.7,179.77 L127,179.77 L127.3,179.78 L127.6,179.79 L127.9,179.79 L128.2,179.8 L128.5,179.8 L128.8,179.81 L129.1,179.81 L129.4,179.81 L129.7,179.81 L130,179.81 L130.3,179.82 L130.6,179.82 L130.9,179.82 L131.2,179.81 L131.5,179.81 L131.8,179.81 L132.1,179.81 L132.4,179.8 L132.7,179.8 L133,179.79 L133.3,179.79 L133.6,179.78 L133.9,179.78 L134.2,179.77 L134.5,179.76 L134.8,179.75 L135.1,179.75 L135.4,179.74 L135.7,179.73 L136,179.72 L136.3,179.71 L136.6,179.69 L136.9,179.68 L137.2,179.67 L137.5,179.66 L137.8,179.64 L138.1,179.63 L138.4,179.61 L138.7,179.59 L139,179.57 L139.3,179.55 L139.6,179.53 L139.9,179.5 L140.2,179.48 L140.5,179.45 L140.8,179.41 L141.1,179.37 L141.4,179.32 L141.7,179.27 L142,179.21 L142.3,179.13 L142.6,179.04 L142.9,178.94 L143.2,178.82 L143.5,178.68 L143.8,178.51 L144.1,178.31 L144.4,178.07 L144.7,177.79 L145,177.47 L145.3,177.1 L145.6,176.66 L145.9,176.15 L146.2,175.57 L146.5,174.9 L146.8,174.13 L147.1,173.26 L147.4,172.28 L147.7,171.17 L148,169.92 L148.3,168.53 L148.6,166.99 L148.9,165.28 L149.2,163.41 L149.5,161.36 L149.8,159.14 L150.1,156.73 L150.4,154.13 L150.7,151.35 L151,148.39 L151.3,145.26 L151.6,141.95 L151.9,138.48 L152.2,134.87 L152.5,131.12 L152.8,127.25 L153.1,123.28 L153.4,119.23 L153.7,115.13 L154,110.98 L154.3,106.83 L154.6,102.68 L154.9,98.57 L155.2,94.53 L155.5,90.56 L155.8,86.71 L156.1,82.99 L156.4,79.41 L156.7,76.02 L157,72.81 L157.3,69.82 L157.6,67.05 L157.9,64.52 L158.2,62.24 L158.5,60.23 L158.8,58.49 L159.1,57.03 L159.4,55.87 L159.7,54.99 L160,54.42 L160.3,54.16 L160.6,54.19 L160.9,54.54 L161.2,55.18 L161.5,56.14 L161.8,57.39 L162.1,58.93 L162.4,60.77 L162.7,62.88 L163,65.26 L163.3,67.9 L163.6,70.78 L163.9,73.89 L164.2,77.21 L164.5,80.72 L164.8,84.4 L165.1,88.22 L165.4,92.17 L165.7,96.21 L166,100.34 L166.3,104.5 L166.6,108.7 L166.9,112.89 L167.2,117.05 L167.5,121.17 L167.8,125.21 L168.1,129.16 L168.4,133 L168.7,136.72 L169,140.29 L169.3,143.71 L169.6,146.97 L169.9,150.06 L170.2,152.97 L170.5,155.7 L170.8,158.25 L171.1,160.62 L171.4,162.81 L171.7,164.83 L172,166.67 L172.3,168.36 L172.6,169.89 L172.9,171.28 L173.2,172.53 L173.5,173.65 L173.8,174.65 L174.1,175.54 L174.4,176.33 L174.7,177.03 L175,177.65 L175.3,178.19 L175.6,178.66 L175.9,179.08 L176.2,179.44 L176.5,179.75 L176.8,180.03 L177.1,180.27 L177.4,180.48 L177.7,180.66 L178,180.83 L178.3,180.97 L178.6,181.09 L178.9,181.2 L179.2,181.3 L179.5,181.39 L179.8,181.47 L180.1,181.55 L180.4,181.61 L180.7,181.68 L181,181.74 L181.3,181.79 L181.6,181.85 L181.9,181.9 L182.2,181.94 L182.5,181.99 L182.8,182.04 L183.1,182.08 L183.4,182.12 L183.7,182.17 L184,182.21 L184.3,182.25 L184.6,182.29 L184.9,182.33 L185.2,182.37 L185.5,182.4 L185.8,182.44 L186.1,182.48 L186.4,182.51 L186.7,182.55 L187,182.58 L187.3,182.62 L187.6,182.65 L187.9,182.68 L188.2,182.72 L188.5,182.75 L188.8,182.78 L189.1,182.81 L189.4,182.84 L189.7,182.87 L190,182.9 L190.3,182.93 L190.6,182.96 L190.9,182.98 L191.2,183.01 L191.5,183.04 L191.8,183.06 L192.1,183.09 L192.4,183.11 L192.7,183.14 L193,183.16 L193.3,183.19 L193.6,183.21 L193.9,183.23 L194.2,183.26 L194.5,183.28 L194.8,183.3 L195.1,183.32 L195.4,183.34 L195.7,183.36 L196,183.38 L196.3,183.4 L196.6,183.42 L196.9,183.44 L197.2,183.46 L197.5,183.48 L197.8,183.49 L198.1,183.51 L198.4,183.53 L198.7,183.54 L199,183.56 L199.3,183.58 L199.6,183.59 L199.9,183.61 L200.2,183.62 L200.5,183.64 L200.8,183.65 L201.1,183.67 L201.4,183.68 L201.7,183.69 L202,183.71 L202.3,183.72 L202.6,183.73 L202.9,183.75 L203.2,183.76 L203.5,183.77 L203.8,183.78 L204.1,183.79 L204.4,183.81 L204.7,183.82 L205,183.83 L205.3,183.84 L205.6,183.85 L205.9,183.86 L206.2,183.87 L206.5,183.88 L206.8,183.89 L207.1,183.9 L207.4,183.91 L207.7,183.92 L208,183.93 L208.3,183.94 L208.6,183.95 L208.9,183.95 L209.2,183.96 L209.5,183.97 L209.8,183.98 L210.1,183.99 L210.4,184 L210.7,184 L211,184.01 L211.3,184.02 L211.6,184.02 L211.9,184.03 L212.2,184.04 L212.5,184.05 L212.8,184.05 L213.1,184.06 L213.4,184.07" fill="none" stroke="#140628" stroke-width="1.9" stroke-linejoin="round"/>
</g>
<g transform="translate(0,220)">
<path d="M80.8,176.54 L81.1,176.54 L81.4,176.54 L81.7,176.55 L82,176.55 L82.3,176.55 L82.6,176.55 L82.9,176.55 L83.2,176.56 L83.5,176.56 L83.8,176.56 L84.1,176.57 L84.4,176.57 L84.7,176.57 L85,176.58 L85.3,176.58 L85.6,176.59 L85.9,176.59 L86.2,176.59 L86.5,176.6 L86.8,176.6 L87.1,176.61 L87.4,176.61 L87.7,176.62 L88,176.63 L88.3,176.63 L88.6,176.64 L88.9,176.64 L89.2,176.65 L89.5,176.66 L89.8,176.67 L90.1,176.67 L90.4,176.68 L90.7,176.69 L91,176.7 L91.3,176.71 L91.6,176.72 L91.9,176.73 L92.2,176.74 L92.5,176.75 L92.8,176.77 L93.1,176.78 L93.4,176.79 L93.7,176.81 L94,176.82 L94.3,176.83 L94.6,176.85 L94.9,176.87 L95.2,176.88 L95.5,176.9 L95.8,176.92 L96.1,176.94 L96.4,176.96 L96.7,176.98 L97,177 L97.3,177.03 L97.6,177.05 L97.9,177.07 L98.2,177.1 L98.5,177.13 L98.8,177.15 L99.1,177.18 L99.4,177.21 L99.7,177.24 L100,177.28 L100.3,177.31 L100.6,177.34 L100.9,177.38 L101.2,177.42 L101.5,177.46 L101.8,177.5 L102.1,177.54 L102.4,177.58 L102.7,177.62 L103,177.67 L103.3,177.71 L103.6,177.76 L103.9,177.81 L104.2,177.86 L104.5,177.92 L104.8,177.97 L105.1,178.02 L105.4,178.08 L105.7,178.14 L106,178.2 L106.3,178.26 L106.6,178.32 L106.9,178.38 L107.2,178.45 L107.5,178.52 L107.8,178.58 L108.1,178.65 L108.4,178.72 L108.7,178.79 L109,178.86 L109.3,178.93 L109.6,179.01 L109.9,179.08 L110.2,179.16 L110.5,179.23 L110.8,179.31 L111.1,179.38 L111.4,179.46 L111.7,179.54 L112,179.61 L112.3,179.69 L112.6,179.77 L112.9,179.85 L113.2,179.92 L113.5,180 L113.8,180.08 L114.1,180.15 L114.4,180.23 L114.7,180.3 L115,180.38 L115.3,180.45 L115.6,180.52 L115.9,180.6 L116.2,180.67 L116.5,180.74 L116.8,180.81 L117.1,180.87 L117.4,180.94 L117.7,181.01 L118,181.07 L118.3,181.13 L118.6,181.19 L118.9,181.26 L119.2,181.31 L119.5,181.37 L119.8,181.43 L120.1,181.48 L120.4,181.54 L120.7,181.59 L121,181.64 L121.3,181.69 L121.6,181.74 L121.9,181.78 L122.2,181.83 L122.5,181.87 L122.8,181.91 L123.1,181.95 L123.4,181.99 L123.7,182.03 L124,182.07 L124.3,182.1 L124.6,182.14 L124.9,182.17 L125.2,182.2 L125.5,182.23 L125.8,182.26 L126.1,182.29 L126.4,182.32 L126.7,182.35 L127,182.37 L127.3,182.4 L127.6,182.42 L127.9,182.44 L128.2,182.47 L128.5,182.49 L128.8,182.51 L129.1,182.53 L129.4,182.54 L129.7,182.56 L130,182.58 L130.3,182.6 L130.6,182.61 L130.9,182.63 L131.2,182.64 L131.5,182.65 L131.8,182.67 L132.1,182.68 L132.4,182.69 L132.7,182.7 L133,182.72 L133.3,182.73 L133.6,182.74 L133.9,182.75 L134.2,182.76 L134.5,182.77 L134.8,182.77 L135.1,182.78 L135.4,182.79 L135.7,182.8 L136,182.81 L136.3,182.81 L136.6,182.82 L136.9,182.83 L137.2,182.83 L137.5,182.84 L137.8,182.84 L138.1,182.85 L138.4,182.86 L138.7,182.86 L139,182.87 L139.3,182.87 L139.6,182.88 L139.9,182.88 L140.2,182.88 L140.5,182.89 L140.8,182.89 L141.1,182.9 L141.4,182.9 L141.7,182.9 L142,182.91 L142.3,182.91 L142.6,182.92 L142.9,182.92 L143.2,182.92 L143.5,182.93 L143.8,182.93 L144.1,182.93 L144.4,182.94 L144.7,182.94 L145,182.94 L145.3,182.94 L145.6,182.95 L145.9,182.95 L146.2,182.95 L146.5,182.96 L146.8,182.96 L147.1,182.96 L147.4,182.96 L147.7,182.97 L148,182.97 L148.3,182.97 L148.6,182.98 L148.9,182.98 L149.2,182.98 L149.5,182.99 L149.8,182.99 L150.1,182.99 L150.4,182.99 L150.7,183 L151,183 L151.3,183 L151.6,183.01 L151.9,183.01 L152.2,183.01 L152.5,183.02 L152.8,183.02 L153.1,183.02 L153.4,183.03 L153.7,183.03 L154,183.04 L154.3,183.04 L154.6,183.04 L154.9,183.05 L155.2,183.05 L155.5,183.06 L155.8,183.06 L156.1,183.07 L156.4,183.07 L156.7,183.08 L157,183.08 L157.3,183.09 L157.6,183.09 L157.9,183.1 L158.2,183.1 L158.5,183.11 L158.8,183.11 L159.1,183.12 L159.4,183.12 L159.7,183.13 L160,183.14 L160.3,183.14 L160.6,183.15 L160.9,183.16 L161.2,183.16 L161.5,183.17 L161.8,183.18 L162.1,183.18 L162.4,183.19 L162.7,183.2 L163,183.21 L163.3,183.21 L163.6,183.22 L163.9,183.23 L164.2,183.24 L164.5,183.25 L164.8,183.26 L165.1,183.27 L165.4,183.28 L165.7,183.29 L166,183.3 L166.3,183.31 L166.6,183.32 L166.9,183.33 L167.2,183.34 L167.5,183.35 L167.8,183.36 L168.1,183.37 L168.4,183.38 L168.7,183.39 L169,183.4 L169.3,183.41 L169.6,183.43 L169.9,183.44 L170.2,183.45 L170.5,183.46 L170.8,183.48 L171.1,183.49 L171.4,183.5 L171.7,183.51 L172,183.53 L172.3,183.54 L172.6,183.55 L172.9,183.57 L173.2,183.58 L173.5,183.59 L173.8,183.61 L174.1,183.62 L174.4,183.64 L174.7,183.65 L175,183.67 L175.3,183.68 L175.6,183.69 L175.9,183.71 L176.2,183.72 L176.5,183.74 L176.8,183.75 L177.1,183.77 L177.4,183.78 L177.7,183.8 L178,183.81 L178.3,183.82 L178.6,183.84 L178.9,183.85 L179.2,183.87 L179.5,183.88 L179.8,183.9 L180.1,183.91 L180.4,183.93 L180.7,183.94 L181,183.95 L181.3,183.97 L181.6,183.98 L181.9,184 L182.2,184.01 L182.5,184.02 L182.8,184.04 L183.1,184.05 L183.4,184.06 L183.7,184.08 L184,184.09 L184.3,184.1 L184.6,184.11 L184.9,184.13 L185.2,184.14 L185.5,184.15 L185.8,184.16 L186.1,184.17 L186.4,184.19 L186.7,184.2 L187,184.21 L187.3,184.22 L187.6,184.23 L187.9,184.24 L188.2,184.25 L188.5,184.26 L188.8,184.27 L189.1,184.28 L189.4,184.29 L189.7,184.3 L190,184.31" fill="none" stroke="#36e436" stroke-width="2.5"/>
<path d="M78.7,176.15 L79,176.11 L79.3,176.07 L79.6,175.96 L79.9,175.84 L80.2,175.7 L80.5,175.53 L80.8,175.33 L81.1,175.09 L81.4,174.81 L81.7,174.49 L82,174.11 L82.3,173.68 L82.6,173.18 L82.9,172.62 L83.2,171.97 L83.5,171.24 L83.8,170.41 L84.1,169.48 L84.4,168.44 L84.7,167.28 L85,166.01 L85.3,164.6 L85.6,163.05 L85.9,161.37 L86.2,159.54 L86.5,157.56 L86.8,155.44 L87.1,153.17 L87.4,150.76 L87.7,148.21 L88,145.53 L88.3,142.73 L88.6,139.82 L88.9,136.81 L89.2,133.73 L89.5,130.59 L89.8,127.41 L90.1,124.21 L90.4,121.03 L90.7,117.88 L91,114.79 L91.3,111.8 L91.6,108.92 L91.9,106.2 L92.2,103.64 L92.5,101.3 L92.8,99.17 L93.1,97.3 L93.4,95.71 L93.7,94.4 L94,93.39 L94.3,92.71 L94.6,92.35 L94.9,92.32 L95.2,92.62 L95.5,93.24 L95.8,94.19 L96.1,95.44 L96.4,96.99 L96.7,98.82 L97,100.91 L97.3,103.23 L97.6,105.76 L97.9,108.47 L98.2,111.34 L98.5,114.34 L98.8,117.44 L99.1,120.62 L99.4,123.83 L99.7,127.07 L100,130.29 L100.3,133.49 L100.6,136.63 L100.9,139.7 L101.2,142.69 L101.5,145.56 L101.8,148.33 L102.1,150.96 L102.4,153.46 L102.7,155.82 L103,158.03 L103.3,160.1 L103.6,162.03 L103.9,163.81 L104.2,165.45 L104.5,166.95 L104.8,168.32 L105.1,169.57 L105.4,170.7 L105.7,171.73 L106,172.64 L106.3,173.47 L106.6,174.2 L106.9,174.86 L107.2,175.44 L107.5,175.96 L107.8,176.42 L108.1,176.83 L108.4,177.19 L108.7,177.51 L109,177.8 L109.3,178.05 L109.6,178.28 L109.9,178.48 L110.2,178.66 L110.5,178.83 L110.8,178.98 L111.1,179.12" fill="none" stroke="#e4201c" stroke-width="2"/>
<path d="M141.1,182.64 L141.4,182.59 L141.7,182.51 L142,182.43 L142.3,182.32 L142.6,182.19 L142.9,182.04 L143.2,181.85 L143.5,181.63 L143.8,181.37 L144.1,181.07 L144.4,180.71 L144.7,180.28 L145,179.8 L145.3,179.23 L145.6,178.58 L145.9,177.83 L146.2,176.97 L146.5,176 L146.8,174.9 L147.1,173.67 L147.4,172.29 L147.7,170.74 L148,169.03 L148.3,167.14 L148.6,165.06 L148.9,162.79 L149.2,160.31 L149.5,157.64 L149.8,154.75 L150.1,151.66 L150.4,148.36 L150.7,144.87 L151,141.19 L151.3,137.33 L151.6,133.31 L151.9,129.14 L152.2,124.85 L152.5,120.47 L152.8,116.01 L153.1,111.52 L153.4,107.02 L153.7,102.55 L154,98.15 L154.3,93.86 L154.6,89.72 L154.9,85.77 L155.2,82.04 L155.5,78.58 L155.8,75.42 L156.1,72.6 L156.4,70.14 L156.7,68.08 L157,66.44 L157.3,65.23 L157.6,64.48 L157.9,64.19 L158.2,64.36 L158.5,64.99 L158.8,66.08 L159.1,67.61 L159.4,69.56 L159.7,71.91 L160,74.65 L160.3,77.72 L160.6,81.11 L160.9,84.78 L161.2,88.68 L161.5,92.78 L161.8,97.05 L162.1,101.43 L162.4,105.89 L162.7,110.39 L163,114.9 L163.3,119.39 L163.6,123.81 L163.9,128.14 L164.2,132.35 L164.5,136.43 L164.8,140.35 L165.1,144.1 L165.4,147.66 L165.7,151.03 L166,154.19 L166.3,157.15 L166.6,159.9 L166.9,162.44 L167.2,164.79 L167.5,166.93 L167.8,168.89 L168.1,170.67 L168.4,172.27 L168.7,173.72 L169,175.01 L169.3,176.16 L169.6,177.18 L169.9,178.08 L170.2,178.87 L170.5,179.57 L170.8,180.17 L171.1,180.7 L171.4,181.16 L171.7,181.55 L172,181.89 L172.3,182.18 L172.6,182.43 L172.9,182.64 L173.2,182.82 L173.5,182.97 L173.8,183.1 L174.1,183.21 L174.4,183.3 L174.7,183.38" fill="none" stroke="#e4201c" stroke-width="2"/>
<path d="M78.7,175.75 L79,175.77 L79.3,175.79 L79.6,175.77 L79.9,175.75 L80.2,175.73 L80.5,175.7 L80.8,175.68 L81.1,175.66 L81.4,175.63 L81.7,175.6 L82,175.58 L82.3,175.55 L82.6,175.52 L82.9,175.48 L83.2,175.45 L83.5,175.42 L83.8,175.38 L84.1,175.34 L84.4,175.3 L84.7,175.26 L85,175.21 L85.3,175.17 L85.6,175.12 L85.9,175.06 L86.2,175.01 L86.5,174.95 L86.8,174.89 L87.1,174.82 L87.4,174.75 L87.7,174.68 L88,174.6 L88.3,174.52 L88.6,174.44 L88.9,174.34 L89.2,174.25 L89.5,174.14 L89.8,174.03 L90.1,173.92 L90.4,173.8 L90.7,173.67 L91,173.53 L91.3,173.38 L91.6,173.23 L91.9,173.06 L92.2,172.89 L92.5,172.71 L92.8,172.51 L93.1,172.3 L93.4,172.07 L93.7,171.83 L94,171.56 L94.3,171.26 L94.6,170.93 L94.9,170.56 L95.2,170.14 L95.5,169.67 L95.8,169.15 L96.1,168.58 L96.4,167.97 L96.7,167.34 L97,166.71 L97.3,166.11 L97.6,165.57 L97.9,165.13 L98.2,164.82 L98.5,164.67 L98.8,164.68 L99.1,164.85 L99.4,165.19 L99.7,165.66 L100,166.23 L100.3,166.88 L100.6,167.56 L100.9,168.25 L101.2,168.93 L101.5,169.56 L101.8,170.16 L102.1,170.69 L102.4,171.18 L102.7,171.62 L103,172.03 L103.3,172.39 L103.6,172.73 L103.9,173.04 L104.2,173.33 L104.5,173.61 L104.8,173.88 L105.1,174.13 L105.4,174.38 L105.7,174.61 L106,174.84 L106.3,175.05 L106.6,175.27 L106.9,175.47 L107.2,175.67 L107.5,175.86 L107.8,176.04 L108.1,176.22 L108.4,176.4 L108.7,176.57 L109,176.73 L109.3,176.89 L109.6,177.05 L109.9,177.2 L110.2,177.35 L110.5,177.5 L110.8,177.64 L111.1,177.78 L111.4,177.92 L111.7,178.05 L112,178.19 L112.3,178.32 L112.6,178.44 L112.9,178.57 L113.2,178.69 L113.5,178.81 L113.8,178.92 L114.1,179.04 L114.4,179.15 L114.7,179.26 L115,179.37 L115.3,179.47 L115.6,179.58 L115.9,179.68 L116.2,179.78 L116.5,179.87 L116.8,179.97 L117.1,180.06 L117.4,180.15 L117.7,180.24 L118,180.32 L118.3,180.41 L118.6,180.49 L118.9,180.57" fill="none" stroke="#1a1ae0" stroke-width="2"/>
<path d="M141.7,181.37 L142,181.33 L142.3,181.29 L142.6,181.25 L142.9,181.2 L143.2,181.15 L143.5,181.1 L143.8,181.05 L144.1,181 L144.4,180.94 L144.7,180.88 L145,180.82 L145.3,180.76 L145.6,180.69 L145.9,180.62 L146.2,180.54 L146.5,180.46 L146.8,180.38 L147.1,180.29 L147.4,180.2 L147.7,180.1 L148,180 L148.3,179.89 L148.6,179.78 L148.9,179.66 L149.2,179.53 L149.5,179.4 L149.8,179.26 L150.1,179.11 L150.4,178.95 L150.7,178.79 L151,178.61 L151.3,178.43 L151.6,178.23 L151.9,178.02 L152.2,177.8 L152.5,177.56 L152.8,177.32 L153.1,177.05 L153.4,176.77 L153.7,176.48 L154,176.17 L154.3,175.83 L154.6,175.48 L154.9,175.11 L155.2,174.72 L155.5,174.3 L155.8,173.86 L156.1,173.38 L156.4,172.88 L156.7,172.33 L157,171.74 L157.3,171.08 L157.6,170.36 L157.9,169.55 L158.2,168.65 L158.5,167.63 L158.8,166.5 L159.1,165.25 L159.4,163.9 L159.7,162.48 L160,161.03 L160.3,159.61 L160.6,158.29 L160.9,157.16 L161.2,156.27 L161.5,155.7 L161.8,155.48 L162.1,155.64 L162.4,156.15 L162.7,156.99 L163,158.09 L163.3,159.39 L163.6,160.8 L163.9,162.27 L164.2,163.71 L164.5,165.1 L164.8,166.38 L165.1,167.56 L165.4,168.61 L165.7,169.56 L166,170.4 L166.3,171.15 L166.6,171.84 L166.9,172.46 L167.2,173.03 L167.5,173.56 L167.8,174.05 L168.1,174.52 L168.4,174.96 L168.7,175.37 L169,175.76 L169.3,176.13 L169.6,176.49 L169.9,176.82 L170.2,177.13 L170.5,177.43 L170.8,177.72 L171.1,177.98 L171.4,178.24 L171.7,178.48 L172,178.7 L172.3,178.92 L172.6,179.12 L172.9,179.32 L173.2,179.5 L173.5,179.68 L173.8,179.85 L174.1,180.01 L174.4,180.16 L174.7,180.3 L175,180.44 L175.3,180.57 L175.6,180.7 L175.9,180.82 L176.2,180.94 L176.5,181.05 L176.8,181.15 L177.1,181.25 L177.4,181.35 L177.7,181.44 L178,181.53 L178.3,181.62 L178.6,181.7 L178.9,181.79 L179.2,181.86 L179.5,181.94 L179.8,182.01 L180.1,182.08 L180.4,182.15 L180.7,182.21 L181,182.27 L181.3,182.33 L181.6,182.39 L181.9,182.45" fill="none" stroke="#1a1ae0" stroke-width="2"/>
<path d="M55.3 173.48h0M55.6 173.52h0M55.9 173.55h0M56.2 173.58h0M56.5 173.61h0M56.8 173.64h0M57.1 173.68h0M57.4 173.71h0M57.7 173.74h0M58 173.77h0M58.3 173.81h0M58.6 173.84h0M58.9 173.87h0M59.2 173.9h0M59.5 173.93h0M59.8 173.96h0M60.1 174h0M60.4 174.03h0M60.7 174.06h0M61 174.09h0M61.3 174.12h0M61.6 174.15h0M61.9 174.18h0M62.2 174.22h0M62.5 174.25h0M62.8 174.28h0M63.1 174.31h0M63.4 174.34h0M63.7 174.37h0M64 174.4h0M64.3 174.43h0M64.6 174.46h0M64.9 174.49h0M65.2 174.52h0M65.5 174.55h0M65.8 174.58h0M66.1 174.61h0M66.4 174.64h0M66.7 174.67h0M67 174.7h0M67.3 174.73h0M67.6 174.76h0M67.9 174.79h0M68.2 174.82h0M68.5 174.84h0M68.8 174.87h0M69.1 174.9h0M69.4 174.93h0M69.7 174.96h0M70 174.98h0M70.3 175.01h0M70.6 175.04h0M70.9 175.07h0M71.2 175.09h0M71.5 175.12h0M71.8 175.15h0M72.1 175.17h0M72.4 175.2h0M72.7 175.22h0M73 175.25h0M73.3 175.27h0M73.6 175.29h0M73.9 175.32h0M74.2 175.34h0M74.5 175.36h0M74.8 175.38h0M75.1 175.4h0M75.4 175.42h0M75.7 175.43h0M76 175.44h0M76.3 175.46h0M76.6 175.46h0M76.9 175.47h0M77.2 175.46h0M77.5 175.46h0M77.8 175.44h0M78.1 175.42h0M78.4 175.39h0M78.7 175.35h0M79 175.29h0M79.3 175.22h0M79.6 175.1h0M79.9 174.96h0M80.2 174.79h0M80.5 174.59h0M80.8 174.37h0M81.1 174.1h0M81.4 173.8h0M81.7 173.44h0M82 173.04h0M82.3 172.57h0M82.6 172.04h0M82.9 171.44h0M83.2 170.75h0M83.5 169.98h0M83.8 169.11h0M84.1 168.14h0M84.4 167.06h0M84.7 165.85h0M85 164.53h0M85.3 163.06h0M85.6 161.47h0M85.9 159.72h0M86.2 157.83h0M86.5 155.79h0M86.8 153.6h0M87.1 151.26h0M87.4 148.78h0M87.7 146.15h0M88 143.38h0M88.3 140.49h0M88.6 137.49h0M88.9 134.39h0M89.2 131.2h0M89.5 127.95h0M89.8 124.65h0M90.1 121.33h0M90.4 118.01h0M90.7 114.72h0M91 111.49h0M91.3 108.33h0M91.6 105.29h0M91.9 102.39h0M92.2 99.65h0M92.5 97.11h0M92.8 94.78h0M93.1 92.68h0M93.4 90.84h0M93.7 89.27h0M94 87.99h0M94.3 86.99h0M94.6 86.28h0M94.9 85.86h0M95.2 85.72h0M95.5 85.86h0M95.8 86.26h0M96.1 86.93h0M96.4 87.85h0M96.7 89.02h0M97 90.45h0M97.3 92.15h0M97.6 94.11h0M97.9 96.37h0M98.2 98.9h0M98.5 101.72h0M98.8 104.8h0M99.1 108.12h0M99.4 111.63h0M99.7 115.3h0M100 119.07h0M100.3 122.88h0M100.6 126.67h0M100.9 130.4h0M101.2 134.01h0M101.5 137.49h0M101.8 140.8h0M102.1 143.93h0M102.4 146.87h0M102.7 149.63h0M103 152.2h0M103.3 154.58h0M103.6 156.79h0M103.9 158.83h0M104.2 160.71h0M104.5 162.44h0M104.8 164.03h0M105.1 165.47h0M105.4 166.79h0M105.7 167.98h0M106 169.07h0M106.3 170.04h0M106.6 170.93h0M106.9 171.72h0M107.2 172.44h0M107.5 173.08h0M107.8 173.65h0M108.1 174.17h0M108.4 174.64h0M108.7 175.05h0M109 175.43h0M109.3 175.77h0M109.6 176.08h0M109.9 176.36h0M110.2 176.61h0M110.5 176.84h0M110.8 177.06h0M111.1 177.26h0M111.4 177.44h0M111.7 177.62h0M112 177.78h0M112.3 177.93h0M112.6 178.08h0M112.9 178.22h0M113.2 178.35h0M113.5 178.48h0M113.8 178.6h0M114.1 178.72h0M114.4 178.83h0M114.7 178.94h0M115 179.05h0M115.3 179.15h0M115.6 179.26h0M115.9 179.35h0M116.2 179.45h0M116.5 179.54h0M116.8 179.63h0M117.1 179.72h0M117.4 179.81h0M117.7 179.89h0M118 179.97h0M118.3 180.05h0M118.6 180.13h0M118.9 180.21h0M119.2 180.28h0M119.5 180.35h0M119.8 180.42h0M120.1 180.48h0M120.4 180.55h0M120.7 180.61h0M121 180.67h0M121.3 180.72h0M121.6 180.78h0M121.9 180.83h0M122.2 180.88h0M122.5 180.93h0M122.8 180.98h0M123.1 181.03h0M123.4 181.07h0M123.7 181.11h0M124 181.15h0M124.3 181.19h0M124.6 181.23h0M124.9 181.26h0M125.2 181.3h0M125.5 181.33h0M125.8 181.36h0M126.1 181.39h0M126.4 181.41h0M126.7 181.44h0M127 181.46h0M127.3 181.49h0M127.6 181.51h0M127.9 181.53h0M128.2 181.54h0M128.5 181.56h0M128.8 181.58h0M129.1 181.59h0M129.4 181.61h0M129.7 181.62h0M130 181.63h0M130.3 181.64h0M130.6 181.65h0M130.9 181.66h0M131.2 181.66h0M131.5 181.67h0M131.8 181.67h0M132.1 181.68h0M132.4 181.68h0M132.7 181.68h0M133 181.68h0M133.3 181.68h0M133.6 181.68h0M133.9 181.67h0M134.2 181.67h0M134.5 181.66h0M134.8 181.66h0M135.1 181.65h0M135.4 181.64h0M135.7 181.63h0M136 181.62h0M136.3 181.61h0M136.6 181.6h0M136.9 181.58h0M137.2 181.56h0M137.5 181.55h0M137.8 181.52h0M138.1 181.5h0M138.4 181.48h0M138.7 181.45h0M139 181.41h0M139.3 181.38h0M139.6 181.34h0M139.9 181.29h0M140.2 181.24h0M140.5 181.17h0M140.8 181.1h0M141.1 181.02h0M141.4 180.93h0M141.7 180.82h0M142 180.69h0M142.3 180.54h0M142.6 180.37h0M142.9 180.17h0M143.2 179.93h0M143.5 179.66h0M143.8 179.35h0M144.1 178.99h0M144.4 178.57h0M144.7 178.09h0M145 177.53h0M145.3 176.9h0M145.6 176.18h0M145.9 175.36h0M146.2 174.43h0M146.5 173.37h0M146.8 172.19h0M147.1 170.87h0M147.4 169.39h0M147.7 167.75h0M148 165.93h0M148.3 163.93h0M148.6 161.74h0M148.9 159.35h0M149.2 156.74h0M149.5 153.93h0M149.8 150.9h0M150.1 147.66h0M150.4 144.21h0M150.7 140.55h0M151 136.69h0M151.3 132.64h0M151.6 128.42h0M151.9 124.04h0M152.2 119.53h0M152.5 114.91h0M152.8 110.2h0M153.1 105.44h0M153.4 100.66h0M153.7 95.9h0M154 91.18h0M154.3 86.56h0M154.6 82.06h0M154.9 77.74h0M155.2 73.61h0M155.5 69.73h0M155.8 66.12h0M156.1 62.82h0M156.4 59.86h0M156.7 57.25h0M157 55.01h0M157.3 53.14h0M157.6 51.66h0M157.9 50.56h0M158.2 49.82h0M158.5 49.43h0M158.8 49.38h0M159.1 49.65h0M159.4 50.25h0M159.7 51.18h0M160 52.45h0M160.3 54.11h0M160.6 56.18h0M160.9 58.7h0M161.2 61.71h0M161.5 65.24h0M161.8 69.28h0M162.1 73.8h0M162.4 78.77h0M162.7 84.11h0M163 89.71h0M163.3 95.49h0M163.6 101.32h0M163.9 107.1h0M164.2 112.76h0M164.5 118.21h0M164.8 123.41h0M165.1 128.32h0M165.4 132.93h0M165.7 137.23h0M166 141.23h0M166.3 144.93h0M166.6 148.35h0M166.9 151.51h0M167.2 154.41h0M167.5 157.08h0M167.8 159.52h0M168.1 161.75h0M168.4 163.79h0M168.7 165.63h0M169 167.31h0M169.3 168.82h0M169.6 170.18h0M169.9 171.4h0M170.2 172.5h0M170.5 173.48h0M170.8 174.35h0M171.1 175.14h0M171.4 175.83h0M171.7 176.45h0M172 177.01h0M172.3 177.5h0M172.6 177.94h0M172.9 178.33h0M173.2 178.68h0M173.5 179h0M173.8 179.28h0M174.1 179.54h0M174.4 179.77h0M174.7 179.98h0M175 180.17h0M175.3 180.35h0M175.6 180.51h0M175.9 180.66h0M176.2 180.8h0M176.5 180.93h0M176.8 181.05h0M177.1 181.16h0M177.4 181.27h0M177.7 181.37h0M178 181.47h0M178.3 181.56h0M178.6 181.65h0M178.9 181.73h0M179.2 181.81h0M179.5 181.89h0M179.8 181.96h0M180.1 182.03h0M180.4 182.1h0M180.7 182.16h0M181 182.23h0M181.3 182.29h0M181.6 182.35h0M181.9 182.41h0M182.2 182.46h0M182.5 182.51h0M182.8 182.57h0M183.1 182.62h0M183.4 182.67h0M183.7 182.71h0M184 182.76h0M184.3 182.8h0M184.6 182.85h0M184.9 182.89h0M185.2 182.93h0M185.5 182.97h0M185.8 183.01h0M186.1 183.05h0M186.4 183.08h0M186.7 183.12h0M187 183.15h0M187.3 183.19h0M187.6 183.22h0M187.9 183.25h0M188.2 183.28h0M188.5 183.31h0M188.8 183.34h0M189.1 183.37h0M189.4 183.4h0M189.7 183.43h0M190 183.45h0M190.3 183.48h0M190.6 183.5h0M190.9 183.53h0M191.2 183.55h0M191.5 183.58h0M191.8 183.6h0M192.1 183.62h0M192.4 183.64h0M192.7 183.66h0M193 183.68h0M193.3 183.7h0M193.6 183.72h0M193.9 183.74h0M194.2 183.76h0M194.5 183.78h0M194.8 183.79h0M195.1 183.81h0M195.4 183.83h0M195.7 183.84h0M196 183.86h0M196.3 183.87h0M196.6 183.89h0M196.9 183.9h0M197.2 183.92h0M197.5 183.93h0M197.8 183.94h0M198.1 183.96h0M198.4 183.97h0M198.7 183.98h0M199 184h0M199.3 184.01h0M199.6 184.02h0M199.9 184.03h0M200.2 184.04h0M200.5 184.05h0M200.8 184.06h0M201.1 184.07h0M201.4 184.08h0M201.7 184.09h0M202 184.1h0M202.3 184.11h0M202.6 184.12h0M202.9 184.13h0M203.2 184.14h0M203.5 184.15h0M203.8 184.15h0M204.1 184.16h0M204.4 184.17h0M204.7 184.18h0M205 184.19h0M205.3 184.19h0M205.6 184.2h0M205.9 184.21h0M206.2 184.21h0M206.5 184.22h0M206.8 184.23h0M207.1 184.23h0M207.4 184.24h0M207.7 184.25h0M208 184.25h0M208.3 184.26h0M208.6 184.26h0M208.9 184.27h0M209.2 184.27h0M209.5 184.28h0M209.8 184.28h0M210.1 184.29h0M210.4 184.29h0M210.7 184.3h0M211 184.3h0M211.3 184.31h0M211.6 184.31h0M211.9 184.32h0M212.2 184.32h0M212.5 184.33h0M212.8 184.33h0M213.1 184.33h0M213.4 184.34h0" fill="none" stroke="#6630cc" stroke-width="3.7" stroke-linecap="round"/>
<path d="M55.3,173.48 L55.6,173.52 L55.9,173.55 L56.2,173.58 L56.5,173.61 L56.8,173.64 L57.1,173.68 L57.4,173.71 L57.7,173.74 L58,173.77 L58.3,173.81 L58.6,173.84 L58.9,173.87 L59.2,173.9 L59.5,173.93 L59.8,173.96 L60.1,174 L60.4,174.03 L60.7,174.06 L61,174.09 L61.3,174.12 L61.6,174.15 L61.9,174.18 L62.2,174.22 L62.5,174.25 L62.8,174.28 L63.1,174.31 L63.4,174.34 L63.7,174.37 L64,174.4 L64.3,174.43 L64.6,174.46 L64.9,174.49 L65.2,174.52 L65.5,174.55 L65.8,174.58 L66.1,174.61 L66.4,174.64 L66.7,174.67 L67,174.7 L67.3,174.73 L67.6,174.76 L67.9,174.79 L68.2,174.82 L68.5,174.84 L68.8,174.87 L69.1,174.9 L69.4,174.93 L69.7,174.96 L70,174.98 L70.3,175.01 L70.6,175.04 L70.9,175.07 L71.2,175.09 L71.5,175.12 L71.8,175.15 L72.1,175.17 L72.4,175.2 L72.7,175.22 L73,175.25 L73.3,175.27 L73.6,175.29 L73.9,175.32 L74.2,175.34 L74.5,175.36 L74.8,175.38 L75.1,175.4 L75.4,175.42 L75.7,175.43 L76,175.44 L76.3,175.46 L76.6,175.46 L76.9,175.47 L77.2,175.46 L77.5,175.46 L77.8,175.44 L78.1,175.42 L78.4,175.39 L78.7,175.35 L79,175.29 L79.3,175.22 L79.6,175.1 L79.9,174.96 L80.2,174.79 L80.5,174.59 L80.8,174.37 L81.1,174.1 L81.4,173.8 L81.7,173.44 L82,173.04 L82.3,172.57 L82.6,172.04 L82.9,171.44 L83.2,170.75 L83.5,169.98 L83.8,169.11 L84.1,168.14 L84.4,167.06 L84.7,165.85 L85,164.53 L85.3,163.06 L85.6,161.47 L85.9,159.72 L86.2,157.83 L86.5,155.79 L86.8,153.6 L87.1,151.26 L87.4,148.78 L87.7,146.15 L88,143.38 L88.3,140.49 L88.6,137.49 L88.9,134.39 L89.2,131.2 L89.5,127.95 L89.8,124.65 L90.1,121.33 L90.4,118.01 L90.7,114.72 L91,111.49 L91.3,108.33 L91.6,105.29 L91.9,102.39 L92.2,99.65 L92.5,97.11 L92.8,94.78 L93.1,92.68 L93.4,90.84 L93.7,89.27 L94,87.99 L94.3,86.99 L94.6,86.28 L94.9,85.86 L95.2,85.72 L95.5,85.86 L95.8,86.26 L96.1,86.93 L96.4,87.85 L96.7,89.02 L97,90.45 L97.3,92.15 L97.6,94.11 L97.9,96.37 L98.2,98.9 L98.5,101.72 L98.8,104.8 L99.1,108.12 L99.4,111.63 L99.7,115.3 L100,119.07 L100.3,122.88 L100.6,126.67 L100.9,130.4 L101.2,134.01 L101.5,137.49 L101.8,140.8 L102.1,143.93 L102.4,146.87 L102.7,149.63 L103,152.2 L103.3,154.58 L103.6,156.79 L103.9,158.83 L104.2,160.71 L104.5,162.44 L104.8,164.03 L105.1,165.47 L105.4,166.79 L105.7,167.98 L106,169.07 L106.3,170.04 L106.6,170.93 L106.9,171.72 L107.2,172.44 L107.5,173.08 L107.8,173.65 L108.1,174.17 L108.4,174.64 L108.7,175.05 L109,175.43 L109.3,175.77 L109.6,176.08 L109.9,176.36 L110.2,176.61 L110.5,176.84 L110.8,177.06 L111.1,177.26 L111.4,177.44 L111.7,177.62 L112,177.78 L112.3,177.93 L112.6,178.08 L112.9,178.22 L113.2,178.35 L113.5,178.48 L113.8,178.6 L114.1,178.72 L114.4,178.83 L114.7,178.94 L115,179.05 L115.3,179.15 L115.6,179.26 L115.9,179.35 L116.2,179.45 L116.5,179.54 L116.8,179.63 L117.1,179.72 L117.4,179.81 L117.7,179.89 L118,179.97 L118.3,180.05 L118.6,180.13 L118.9,180.21 L119.2,180.28 L119.5,180.35 L119.8,180.42 L120.1,180.48 L120.4,180.55 L120.7,180.61 L121,180.67 L121.3,180.72 L121.6,180.78 L121.9,180.83 L122.2,180.88 L122.5,180.93 L122.8,180.98 L123.1,181.03 L123.4,181.07 L123.7,181.11 L124,181.15 L124.3,181.19 L124.6,181.23 L124.9,181.26 L125.2,181.3 L125.5,181.33 L125.8,181.36 L126.1,181.39 L126.4,181.41 L126.7,181.44 L127,181.46 L127.3,181.49 L127.6,181.51 L127.9,181.53 L128.2,181.54 L128.5,181.56 L128.8,181.58 L129.1,181.59 L129.4,181.61 L129.7,181.62 L130,181.63 L130.3,181.64 L130.6,181.65 L130.9,181.66 L131.2,181.66 L131.5,181.67 L131.8,181.67 L132.1,181.68 L132.4,181.68 L132.7,181.68 L133,181.68 L133.3,181.68 L133.6,181.68 L133.9,181.67 L134.2,181.67 L134.5,181.66 L134.8,181.66 L135.1,181.65 L135.4,181.64 L135.7,181.63 L136,181.62 L136.3,181.61 L136.6,181.6 L136.9,181.58 L137.2,181.56 L137.5,181.55 L137.8,181.52 L138.1,181.5 L138.4,181.48 L138.7,181.45 L139,181.41 L139.3,181.38 L139.6,181.34 L139.9,181.29 L140.2,181.24 L140.5,181.17 L140.8,181.1 L141.1,181.02 L141.4,180.93 L141.7,180.82 L142,180.69 L142.3,180.54 L142.6,180.37 L142.9,180.17 L143.2,179.93 L143.5,179.66 L143.8,179.35 L144.1,178.99 L144.4,178.57 L144.7,178.09 L145,177.53 L145.3,176.9 L145.6,176.18 L145.9,175.36 L146.2,174.43 L146.5,173.37 L146.8,172.19 L147.1,170.87 L147.4,169.39 L147.7,167.75 L148,165.93 L148.3,163.93 L148.6,161.74 L148.9,159.35 L149.2,156.74 L149.5,153.93 L149.8,150.9 L150.1,147.66 L150.4,144.21 L150.7,140.55 L151,136.69 L151.3,132.64 L151.6,128.42 L151.9,124.04 L152.2,119.53 L152.5,114.91 L152.8,110.2 L153.1,105.44 L153.4,100.66 L153.7,95.9 L154,91.18 L154.3,86.56 L154.6,82.06 L154.9,77.74 L155.2,73.61 L155.5,69.73 L155.8,66.12 L156.1,62.82 L156.4,59.86 L156.7,57.25 L157,55.01 L157.3,53.14 L157.6,51.66 L157.9,50.56 L158.2,49.82 L158.5,49.43 L158.8,49.38 L159.1,49.65 L159.4,50.25 L159.7,51.18 L160,52.45 L160.3,54.11 L160.6,56.18 L160.9,58.7 L161.2,61.71 L161.5,65.24 L161.8,69.28 L162.1,73.8 L162.4,78.77 L162.7,84.11 L163,89.71 L163.3,95.49 L163.6,101.32 L163.9,107.1 L164.2,112.76 L164.5,118.21 L164.8,123.41 L165.1,128.32 L165.4,132.93 L165.7,137.23 L166,141.23 L166.3,144.93 L166.6,148.35 L166.9,151.51 L167.2,154.41 L167.5,157.08 L167.8,159.52 L168.1,161.75 L168.4,163.79 L168.7,165.63 L169,167.31 L169.3,168.82 L169.6,170.18 L169.9,171.4 L170.2,172.5 L170.5,173.48 L170.8,174.35 L171.1,175.14 L171.4,175.83 L171.7,176.45 L172,177.01 L172.3,177.5 L172.6,177.94 L172.9,178.33 L173.2,178.68 L173.5,179 L173.8,179.28 L174.1,179.54 L174.4,179.77 L174.7,179.98 L175,180.17 L175.3,180.35 L175.6,180.51 L175.9,180.66 L176.2,180.8 L176.5,180.93 L176.8,181.05 L177.1,181.16 L177.4,181.27 L177.7,181.37 L178,181.47 L178.3,181.56 L178.6,181.65 L178.9,181.73 L179.2,181.81 L179.5,181.89 L179.8,181.96 L180.1,182.03 L180.4,182.1 L180.7,182.16 L181,182.23 L181.3,182.29 L181.6,182.35 L181.9,182.41 L182.2,182.46 L182.5,182.51 L182.8,182.57 L183.1,182.62 L183.4,182.67 L183.7,182.71 L184,182.76 L184.3,182.8 L184.6,182.85 L184.9,182.89 L185.2,182.93 L185.5,182.97 L185.8,183.01 L186.1,183.05 L186.4,183.08 L186.7,183.12 L187,183.15 L187.3,183.19 L187.6,183.22 L187.9,183.25 L188.2,183.28 L188.5,183.31 L188.8,183.34 L189.1,183.37 L189.4,183.4 L189.7,183.43 L190,183.45 L190.3,183.48 L190.6,183.5 L190.9,183.53 L191.2,183.55 L191.5,183.58 L191.8,183.6 L192.1,183.62 L192.4,183.64 L192.7,183.66 L193,183.68 L193.3,183.7 L193.6,183.72 L193.9,183.74 L194.2,183.76 L194.5,183.78 L194.8,183.79 L195.1,183.81 L195.4,183.83 L195.7,183.84 L196,183.86 L196.3,183.87 L196.6,183.89 L196.9,183.9 L197.2,183.92 L197.5,183.93 L197.8,183.94 L198.1,183.96 L198.4,183.97 L198.7,183.98 L199,184 L199.3,184.01 L199.6,184.02 L199.9,184.03 L200.2,184.04 L200.5,184.05 L200.8,184.06 L201.1,184.07 L201.4,184.08 L201.7,184.09 L202,184.1 L202.3,184.11 L202.6,184.12 L202.9,184.13 L203.2,184.14 L203.5,184.15 L203.8,184.15 L204.1,184.16 L204.4,184.17 L204.7,184.18 L205,184.19 L205.3,184.19 L205.6,184.2 L205.9,184.21 L206.2,184.21 L206.5,184.22 L206.8,184.23 L207.1,184.23 L207.4,184.24 L207.7,184.25 L208,184.25 L208.3,184.26 L208.6,184.26 L208.9,184.27 L209.2,184.27 L209.5,184.28 L209.8,184.28 L210.1,184.29 L210.4,184.29 L210.7,184.3 L211,184.3 L211.3,184.31 L211.6,184.31 L211.9,184.32 L212.2,184.32 L212.5,184.33 L212.8,184.33 L213.1,184.33 L213.4,184.34" fill="none" stroke="#140628" stroke-width="1.9" stroke-linejoin="round"/>
</g>
<g transform="translate(264,220)">
<path d="M80.8,174.36 L81.1,174.37 L81.4,174.38 L81.7,174.38 L82,174.39 L82.3,174.4 L82.6,174.41 L82.9,174.42 L83.2,174.43 L83.5,174.44 L83.8,174.45 L84.1,174.46 L84.4,174.47 L84.7,174.49 L85,174.5 L85.3,174.52 L85.6,174.54 L85.9,174.56 L86.2,174.58 L86.5,174.6 L86.8,174.62 L87.1,174.65 L87.4,174.68 L87.7,174.71 L88,174.74 L88.3,174.77 L88.6,174.81 L88.9,174.85 L89.2,174.89 L89.5,174.93 L89.8,174.98 L90.1,175.03 L90.4,175.08 L90.7,175.14 L91,175.2 L91.3,175.26 L91.6,175.32 L91.9,175.39 L92.2,175.47 L92.5,175.54 L92.8,175.63 L93.1,175.71 L93.4,175.8 L93.7,175.89 L94,175.99 L94.3,176.08 L94.6,176.19 L94.9,176.29 L95.2,176.4 L95.5,176.51 L95.8,176.63 L96.1,176.74 L96.4,176.86 L96.7,176.98 L97,177.1 L97.3,177.22 L97.6,177.34 L97.9,177.46 L98.2,177.58 L98.5,177.71 L98.8,177.83 L99.1,177.94 L99.4,178.06 L99.7,178.18 L100,178.29 L100.3,178.4 L100.6,178.5 L100.9,178.61 L101.2,178.71 L101.5,178.81 L101.8,178.9 L102.1,178.99 L102.4,179.08 L102.7,179.16 L103,179.24 L103.3,179.31 L103.6,179.38 L103.9,179.45 L104.2,179.52 L104.5,179.58 L104.8,179.63 L105.1,179.69 L105.4,179.74 L105.7,179.79 L106,179.83 L106.3,179.88 L106.6,179.92 L106.9,179.95 L107.2,179.99 L107.5,180.02 L107.8,180.05 L108.1,180.08 L108.4,180.11 L108.7,180.13 L109,180.15 L109.3,180.17 L109.6,180.19 L109.9,180.21 L110.2,180.23 L110.5,180.25 L110.8,180.26 L111.1,180.28 L111.4,180.29 L111.7,180.3 L112,180.31 L112.3,180.32 L112.6,180.33 L112.9,180.34 L113.2,180.35 L113.5,180.35 L113.8,180.36 L114.1,180.37 L114.4,180.37 L114.7,180.38 L115,180.38 L115.3,180.39 L115.6,180.39 L115.9,180.4 L116.2,180.4 L116.5,180.41 L116.8,180.41 L117.1,180.41 L117.4,180.41 L117.7,180.42 L118,180.42 L118.3,180.42 L118.6,180.42 L118.9,180.43 L119.2,180.43 L119.5,180.43 L119.8,180.43 L120.1,180.43 L120.4,180.43 L120.7,180.43 L121,180.43 L121.3,180.44 L121.6,180.44 L121.9,180.44 L122.2,180.44 L122.5,180.44 L122.8,180.44 L123.1,180.44 L123.4,180.44 L123.7,180.44 L124,180.44 L124.3,180.44 L124.6,180.44 L124.9,180.44 L125.2,180.44 L125.5,180.44 L125.8,180.44 L126.1,180.44 L126.4,180.44 L126.7,180.44 L127,180.44 L127.3,180.45 L127.6,180.45 L127.9,180.45 L128.2,180.45 L128.5,180.45 L128.8,180.45 L129.1,180.45 L129.4,180.45 L129.7,180.45 L130,180.45 L130.3,180.45 L130.6,180.45 L130.9,180.45 L131.2,180.45 L131.5,180.45 L131.8,180.45 L132.1,180.45 L132.4,180.45 L132.7,180.45 L133,180.45 L133.3,180.45 L133.6,180.45 L133.9,180.45 L134.2,180.45 L134.5,180.45 L134.8,180.45 L135.1,180.45 L135.4,180.45 L135.7,180.45 L136,180.45 L136.3,180.45 L136.6,180.45 L136.9,180.45 L137.2,180.45 L137.5,180.45 L137.8,180.45 L138.1,180.45 L138.4,180.45 L138.7,180.45 L139,180.45 L139.3,180.45 L139.6,180.45 L139.9,180.45 L140.2,180.45 L140.5,180.45 L140.8,180.45 L141.1,180.45 L141.4,180.45 L141.7,180.45 L142,180.45 L142.3,180.45 L142.6,180.45 L142.9,180.45 L143.2,180.45 L143.5,180.45 L143.8,180.45 L144.1,180.45 L144.4,180.45 L144.7,180.45 L145,180.45 L145.3,180.45 L145.6,180.45 L145.9,180.45 L146.2,180.45 L146.5,180.45 L146.8,180.45 L147.1,180.45 L147.4,180.45 L147.7,180.45 L148,180.45 L148.3,180.45 L148.6,180.45 L148.9,180.46 L149.2,180.46 L149.5,180.46 L149.8,180.46 L150.1,180.46 L150.4,180.46 L150.7,180.46 L151,180.46 L151.3,180.47 L151.6,180.47 L151.9,180.47 L152.2,180.47 L152.5,180.47 L152.8,180.48 L153.1,180.48 L153.4,180.48 L153.7,180.49 L154,180.49 L154.3,180.5 L154.6,180.5 L154.9,180.51 L155.2,180.51 L155.5,180.52 L155.8,180.53 L156.1,180.54 L156.4,180.55 L156.7,180.56 L157,180.57 L157.3,180.58 L157.6,180.6 L157.9,180.61 L158.2,180.63 L158.5,180.65 L158.8,180.67 L159.1,180.69 L159.4,180.71 L159.7,180.73 L160,180.76 L160.3,180.79 L160.6,180.82 L160.9,180.86 L161.2,180.89 L161.5,180.93 L161.8,180.97 L162.1,181.02 L162.4,181.06 L162.7,181.11 L163,181.16 L163.3,181.21 L163.6,181.27 L163.9,181.32 L164.2,181.38 L164.5,181.44 L164.8,181.5 L165.1,181.56 L165.4,181.62 L165.7,181.68 L166,181.74 L166.3,181.8 L166.6,181.85 L166.9,181.91 L167.2,181.97 L167.5,182.02 L167.8,182.07 L168.1,182.12 L168.4,182.17 L168.7,182.21 L169,182.26 L169.3,182.3 L169.6,182.33 L169.9,182.37 L170.2,182.4 L170.5,182.43 L170.8,182.46 L171.1,182.49 L171.4,182.51 L171.7,182.54 L172,182.56 L172.3,182.58 L172.6,182.59 L172.9,182.61 L173.2,182.62 L173.5,182.64 L173.8,182.65 L174.1,182.66 L174.4,182.67 L174.7,182.68 L175,182.69 L175.3,182.7 L175.6,182.7 L175.9,182.71 L176.2,182.72 L176.5,182.72 L176.8,182.73 L177.1,182.73 L177.4,182.73 L177.7,182.74 L178,182.74 L178.3,182.74 L178.6,182.75 L178.9,182.75 L179.2,182.75 L179.5,182.75 L179.8,182.75 L180.1,182.76 L180.4,182.76 L180.7,182.76 L181,182.76 L181.3,182.76 L181.6,182.76 L181.9,182.76 L182.2,182.76 L182.5,182.76 L182.8,182.76 L183.1,182.76 L183.4,182.77 L183.7,182.77 L184,182.77 L184.3,182.77 L184.6,182.77 L184.9,182.77 L185.2,182.77 L185.5,182.77 L185.8,182.77 L186.1,182.77 L186.4,182.77 L186.7,182.77 L187,182.77 L187.3,182.77 L187.6,182.77 L187.9,182.77 L188.2,182.77 L188.5,182.77 L188.8,182.77 L189.1,182.77 L189.4,182.77 L189.7,182.77 L190,182.77" fill="none" stroke="#36e436" stroke-width="2.5"/>
<path d="M78.7,174.01 L79,173.99 L79.3,173.96 L79.6,173.88 L79.9,173.78 L80.2,173.66 L80.5,173.51 L80.8,173.34 L81.1,173.14 L81.4,172.9 L81.7,172.62 L82,172.29 L82.3,171.91 L82.6,171.47 L82.9,170.96 L83.2,170.39 L83.5,169.72 L83.8,168.97 L84.1,168.13 L84.4,167.18 L84.7,166.11 L85,164.93 L85.3,163.62 L85.6,162.17 L85.9,160.59 L86.2,158.86 L86.5,156.99 L86.8,154.97 L87.1,152.79 L87.4,150.47 L87.7,148.01 L88,145.4 L88.3,142.67 L88.6,139.82 L88.9,136.86 L89.2,133.81 L89.5,130.69 L89.8,127.52 L90.1,124.32 L90.4,121.11 L90.7,117.92 L91,114.79 L91.3,111.73 L91.6,108.78 L91.9,105.96 L92.2,103.31 L92.5,100.86 L92.8,98.62 L93.1,96.64 L93.4,94.92 L93.7,93.49 L94,92.38 L94.3,91.58 L94.6,91.12 L94.9,90.99 L95.2,91.21 L95.5,91.76 L95.8,92.66 L96.1,93.87 L96.4,95.4 L96.7,97.22 L97,99.32 L97.3,101.67 L97.6,104.25 L97.9,107.03 L98.2,109.98 L98.5,113.08 L98.8,116.28 L99.1,119.57 L99.4,122.92 L99.7,126.29 L100,129.66 L100.3,133.01 L100.6,136.3 L100.9,139.52 L101.2,142.65 L101.5,145.68 L101.8,148.59 L102.1,151.36 L102.4,153.99 L102.7,156.47 L103,158.8 L103.3,160.98 L103.6,163 L103.9,164.87 L104.2,166.59 L104.5,168.17 L104.8,169.6 L105.1,170.9 L105.4,172.07 L105.7,173.12 L106,174.06 L106.3,174.9 L106.6,175.64 L106.9,176.3 L107.2,176.87 L107.5,177.38 L107.8,177.82 L108.1,178.2 L108.4,178.53 L108.7,178.81 L109,179.06 L109.3,179.27 L109.6,179.45 L109.9,179.6 L110.2,179.73 L110.5,179.84 L110.8,179.93 L111.1,180" fill="none" stroke="#e4201c" stroke-width="2"/>
<path d="M141.4,180.19 L141.7,180.12 L142,180.05 L142.3,179.95 L142.6,179.84 L142.9,179.7 L143.2,179.53 L143.5,179.34 L143.8,179.1 L144.1,178.82 L144.4,178.5 L144.7,178.11 L145,177.67 L145.3,177.15 L145.6,176.54 L145.9,175.85 L146.2,175.05 L146.5,174.14 L146.8,173.11 L147.1,171.94 L147.4,170.63 L147.7,169.15 L148,167.51 L148.3,165.69 L148.6,163.67 L148.9,161.46 L149.2,159.04 L149.5,156.41 L149.8,153.56 L150.1,150.49 L150.4,147.21 L150.7,143.71 L151,140 L151.3,136.1 L151.6,132.02 L151.9,127.76 L152.2,123.37 L152.5,118.85 L152.8,114.23 L153.1,109.55 L153.4,104.85 L153.7,100.15 L154,95.5 L154.3,90.93 L154.6,86.5 L154.9,82.23 L155.2,78.18 L155.5,74.39 L155.8,70.89 L156.1,67.72 L156.4,64.93 L156.7,62.53 L157,60.57 L157.3,59.05 L157.6,58.01 L157.9,57.45 L158.2,57.38 L158.5,57.8 L158.8,58.7 L159.1,60.08 L159.4,61.92 L159.7,64.2 L160,66.89 L160.3,69.97 L160.6,73.39 L160.9,77.12 L161.2,81.13 L161.5,85.36 L161.8,89.79 L162.1,94.36 L162.4,99.04 L162.7,103.78 L163,108.54 L163.3,113.29 L163.6,117.98 L163.9,122.6 L164.2,127.1 L164.5,131.47 L164.8,135.68 L165.1,139.71 L165.4,143.55 L165.7,147.19 L166,150.61 L166.3,153.82 L166.6,156.8 L166.9,159.57 L167.2,162.12 L167.5,164.46 L167.8,166.6 L168.1,168.54 L168.4,170.3 L168.7,171.88 L169,173.29 L169.3,174.55 L169.6,175.67 L169.9,176.66 L170.2,177.53 L170.5,178.29 L170.8,178.95 L171.1,179.53 L171.4,180.03 L171.7,180.45 L172,180.82 L172.3,181.14 L172.6,181.4 L172.9,181.63 L173.2,181.82 L173.5,181.98 L173.8,182.12 L174.1,182.23 L174.4,182.32 L174.7,182.4" fill="none" stroke="#e4201c" stroke-width="2"/>
<path d="M78.4,173.63 L78.7,173.65 L79,173.67 L79.3,173.7 L79.6,173.68 L79.9,173.67 L80.2,173.65 L80.5,173.63 L80.8,173.62 L81.1,173.6 L81.4,173.58 L81.7,173.56 L82,173.54 L82.3,173.52 L82.6,173.5 L82.9,173.48 L83.2,173.45 L83.5,173.43 L83.8,173.41 L84.1,173.38 L84.4,173.35 L84.7,173.32 L85,173.3 L85.3,173.26 L85.6,173.23 L85.9,173.2 L86.2,173.16 L86.5,173.13 L86.8,173.09 L87.1,173.05 L87.4,173.01 L87.7,172.96 L88,172.91 L88.3,172.86 L88.6,172.81 L88.9,172.76 L89.2,172.7 L89.5,172.63 L89.8,172.56 L90.1,172.49 L90.4,172.41 L90.7,172.33 L91,172.24 L91.3,172.14 L91.6,172.03 L91.9,171.91 L92.2,171.78 L92.5,171.64 L92.8,171.49 L93.1,171.32 L93.4,171.14 L93.7,170.94 L94,170.73 L94.3,170.51 L94.6,170.27 L94.9,170.01 L95.2,169.75 L95.5,169.49 L95.8,169.23 L96.1,168.98 L96.4,168.75 L96.7,168.53 L97,168.36 L97.3,168.22 L97.6,168.14 L97.9,168.11 L98.2,168.15 L98.5,168.24 L98.8,168.41 L99.1,168.63 L99.4,168.92 L99.7,169.25 L100,169.64 L100.3,170.05 L100.6,170.5 L100.9,170.96 L101.2,171.43 L101.5,171.9 L101.8,172.37 L102.1,172.82 L102.4,173.26 L102.7,173.68 L103,174.08 L103.3,174.46 L103.6,174.81 L103.9,175.14 L104.2,175.45 L104.5,175.74 L104.8,176.01 L105.1,176.26 L105.4,176.5 L105.7,176.72 L106,176.92 L106.3,177.11 L106.6,177.29 L106.9,177.45 L107.2,177.61 L107.5,177.75 L107.8,177.89 L108.1,178.02 L108.4,178.14 L108.7,178.25 L109,178.36 L109.3,178.45 L109.6,178.55 L109.9,178.63 L110.2,178.72 L110.5,178.79 L110.8,178.87 L111.1,178.93 L111.4,179 L111.7,179.06 L112,179.12 L112.3,179.17 L112.6,179.22 L112.9,179.27 L113.2,179.32 L113.5,179.36 L113.8,179.4 L114.1,179.44 L114.4,179.48 L114.7,179.51 L115,179.54 L115.3,179.58 L115.6,179.61 L115.9,179.63 L116.2,179.66 L116.5,179.69 L116.8,179.71 L117.1,179.73 L117.4,179.76 L117.7,179.78 L118,179.8 L118.3,179.82 L118.6,179.84" fill="none" stroke="#1a1ae0" stroke-width="2"/>
<path d="M141.4,179.59 L141.7,179.57 L142,179.54 L142.3,179.52 L142.6,179.49 L142.9,179.46 L143.2,179.43 L143.5,179.4 L143.8,179.37 L144.1,179.33 L144.4,179.3 L144.7,179.26 L145,179.22 L145.3,179.18 L145.6,179.14 L145.9,179.09 L146.2,179.05 L146.5,179 L146.8,178.95 L147.1,178.89 L147.4,178.84 L147.7,178.78 L148,178.71 L148.3,178.65 L148.6,178.58 L148.9,178.5 L149.2,178.42 L149.5,178.34 L149.8,178.25 L150.1,178.16 L150.4,178.06 L150.7,177.96 L151,177.85 L151.3,177.73 L151.6,177.6 L151.9,177.47 L152.2,177.33 L152.5,177.18 L152.8,177.02 L153.1,176.85 L153.4,176.66 L153.7,176.47 L154,176.26 L154.3,176.03 L154.6,175.79 L154.9,175.53 L155.2,175.25 L155.5,174.95 L155.8,174.63 L156.1,174.28 L156.4,173.91 L156.7,173.51 L157,173.08 L157.3,172.63 L157.6,172.15 L157.9,171.65 L158.2,171.14 L158.5,170.61 L158.8,170.08 L159.1,169.56 L159.4,169.05 L159.7,168.57 L160,168.14 L160.3,167.76 L160.6,167.45 L160.9,167.22 L161.2,167.08 L161.5,167.04 L161.8,167.09 L162.1,167.25 L162.4,167.5 L162.7,167.83 L163,168.25 L163.3,168.72 L163.6,169.25 L163.9,169.82 L164.2,170.41 L164.5,171.02 L164.8,171.63 L165.1,172.23 L165.4,172.82 L165.7,173.39 L166,173.93 L166.3,174.45 L166.6,174.93 L166.9,175.39 L167.2,175.82 L167.5,176.22 L167.8,176.6 L168.1,176.95 L168.4,177.28 L168.7,177.58 L169,177.86 L169.3,178.13 L169.6,178.38 L169.9,178.61 L170.2,178.82 L170.5,179.02 L170.8,179.21 L171.1,179.39 L171.4,179.56 L171.7,179.71 L172,179.86 L172.3,179.99 L172.6,180.12 L172.9,180.24 L173.2,180.35 L173.5,180.46 L173.8,180.56 L174.1,180.65 L174.4,180.74 L174.7,180.82 L175,180.9 L175.3,180.98 L175.6,181.05 L175.9,181.11 L176.2,181.17 L176.5,181.23 L176.8,181.29 L177.1,181.34 L177.4,181.39 L177.7,181.44 L178,181.49 L178.3,181.53 L178.6,181.57 L178.9,181.61 L179.2,181.65 L179.5,181.68 L179.8,181.71 L180.1,181.75 L180.4,181.78 L180.7,181.81 L181,181.83 L181.3,181.86 L181.6,181.89" fill="none" stroke="#1a1ae0" stroke-width="2"/>
<path d="M55.3 171.15h0M55.6 171.19h0M55.9 171.22h0M56.2 171.26h0M56.5 171.29h0M56.8 171.33h0M57.1 171.36h0M57.4 171.4h0M57.7 171.43h0M58 171.47h0M58.3 171.5h0M58.6 171.54h0M58.9 171.57h0M59.2 171.6h0M59.5 171.64h0M59.8 171.67h0M60.1 171.71h0M60.4 171.74h0M60.7 171.78h0M61 171.81h0M61.3 171.84h0M61.6 171.88h0M61.9 171.91h0M62.2 171.95h0M62.5 171.98h0M62.8 172.01h0M63.1 172.05h0M63.4 172.08h0M63.7 172.12h0M64 172.15h0M64.3 172.18h0M64.6 172.22h0M64.9 172.25h0M65.2 172.28h0M65.5 172.31h0M65.8 172.35h0M66.1 172.38h0M66.4 172.41h0M66.7 172.45h0M67 172.48h0M67.3 172.51h0M67.6 172.54h0M67.9 172.57h0M68.2 172.61h0M68.5 172.64h0M68.8 172.67h0M69.1 172.7h0M69.4 172.73h0M69.7 172.76h0M70 172.8h0M70.3 172.83h0M70.6 172.86h0M70.9 172.89h0M71.2 172.92h0M71.5 172.95h0M71.8 172.98h0M72.1 173.01h0M72.4 173.04h0M72.7 173.07h0M73 173.09h0M73.3 173.12h0M73.6 173.15h0M73.9 173.18h0M74.2 173.2h0M74.5 173.23h0M74.8 173.26h0M75.1 173.28h0M75.4 173.3h0M75.7 173.32h0M76 173.34h0M76.3 173.36h0M76.6 173.38h0M76.9 173.39h0M77.2 173.4h0M77.5 173.4h0M77.8 173.4h0M78.1 173.39h0M78.4 173.37h0M78.7 173.35h0M79 173.31h0M79.3 173.26h0M79.6 173.16h0M79.9 173.04h0M80.2 172.9h0M80.5 172.73h0M80.8 172.53h0M81.1 172.31h0M81.4 172.04h0M81.7 171.74h0M82 171.38h0M82.3 170.97h0M82.6 170.5h0M82.9 169.97h0M83.2 169.35h0M83.5 168.66h0M83.8 167.87h0M84.1 166.99h0M84.4 165.99h0M84.7 164.89h0M85 163.66h0M85.3 162.3h0M85.6 160.81h0M85.9 159.17h0M86.2 157.39h0M86.5 155.45h0M86.8 153.36h0M87.1 151.13h0M87.4 148.73h0M87.7 146.19h0M88 143.51h0M88.3 140.7h0M88.6 137.75h0M88.9 134.7h0M89.2 131.55h0M89.5 128.32h0M89.8 125.03h0M90.1 121.71h0M90.4 118.37h0M90.7 115.04h0M91 111.75h0M91.3 108.53h0M91.6 105.4h0M91.9 102.4h0M92.2 99.55h0M92.5 96.88h0M92.8 94.41h0M93.1 92.17h0M93.4 90.18h0M93.7 88.47h0M94 87.04h0M94.3 85.92h0M94.6 85.11h0M94.9 84.63h0M95.2 84.48h0M95.5 84.66h0M95.8 85.18h0M96.1 86.02h0M96.4 87.2h0M96.7 88.69h0M97 90.49h0M97.3 92.59h0M97.6 94.96h0M97.9 97.59h0M98.2 100.45h0M98.5 103.52h0M98.8 106.77h0M99.1 110.17h0M99.4 113.68h0M99.7 117.27h0M100 120.91h0M100.3 124.56h0M100.6 128.19h0M100.9 131.77h0M101.2 135.27h0M101.5 138.67h0M101.8 141.95h0M102.1 145.09h0M102.4 148.07h0M102.7 150.89h0M103 153.54h0M103.3 156.02h0M103.6 158.32h0M103.9 160.45h0M104.2 162.42h0M104.5 164.22h0M104.8 165.86h0M105.1 167.36h0M105.4 168.71h0M105.7 169.93h0M106 171.03h0M106.3 172.01h0M106.6 172.89h0M106.9 173.68h0M107.2 174.37h0M107.5 174.99h0M107.8 175.53h0M108.1 176.01h0M108.4 176.43h0M108.7 176.8h0M109 177.13h0M109.3 177.41h0M109.6 177.66h0M109.9 177.88h0M110.2 178.07h0M110.5 178.24h0M110.8 178.39h0M111.1 178.52h0M111.4 178.63h0M111.7 178.74h0M112 178.83h0M112.3 178.91h0M112.6 178.98h0M112.9 179.04h0M113.2 179.1h0M113.5 179.16h0M113.8 179.2h0M114.1 179.25h0M114.4 179.29h0M114.7 179.33h0M115 179.36h0M115.3 179.39h0M115.6 179.42h0M115.9 179.45h0M116.2 179.48h0M116.5 179.5h0M116.8 179.52h0M117.1 179.55h0M117.4 179.57h0M117.7 179.58h0M118 179.6h0M118.3 179.62h0M118.6 179.64h0M118.9 179.65h0M119.2 179.66h0M119.5 179.68h0M119.8 179.69h0M120.1 179.7h0M120.4 179.71h0M120.7 179.72h0M121 179.73h0M121.3 179.74h0M121.6 179.75h0M121.9 179.76h0M122.2 179.77h0M122.5 179.78h0M122.8 179.78h0M123.1 179.79h0M123.4 179.8h0M123.7 179.8h0M124 179.81h0M124.3 179.81h0M124.6 179.81h0M124.9 179.82h0M125.2 179.82h0M125.5 179.82h0M125.8 179.83h0M126.1 179.83h0M126.4 179.83h0M126.7 179.83h0M127 179.83h0M127.3 179.84h0M127.6 179.84h0M127.9 179.84h0M128.2 179.84h0M128.5 179.84h0M128.8 179.84h0M129.1 179.84h0M129.4 179.83h0M129.7 179.83h0M130 179.83h0M130.3 179.83h0M130.6 179.83h0M130.9 179.82h0M131.2 179.82h0M131.5 179.82h0M131.8 179.81h0M132.1 179.81h0M132.4 179.8h0M132.7 179.8h0M133 179.79h0M133.3 179.79h0M133.6 179.78h0M133.9 179.78h0M134.2 179.77h0M134.5 179.76h0M134.8 179.75h0M135.1 179.75h0M135.4 179.74h0M135.7 179.73h0M136 179.72h0M136.3 179.71h0M136.6 179.7h0M136.9 179.68h0M137.2 179.67h0M137.5 179.66h0M137.8 179.64h0M138.1 179.62h0M138.4 179.61h0M138.7 179.58h0M139 179.56h0M139.3 179.53h0M139.6 179.5h0M139.9 179.47h0M140.2 179.43h0M140.5 179.38h0M140.8 179.33h0M141.1 179.27h0M141.4 179.19h0M141.7 179.11h0M142 179.01h0M142.3 178.89h0M142.6 178.75h0M142.9 178.58h0M143.2 178.39h0M143.5 178.16h0M143.8 177.9h0M144.1 177.59h0M144.4 177.23h0M144.7 176.81h0M145 176.32h0M145.3 175.76h0M145.6 175.12h0M145.9 174.38h0M146.2 173.54h0M146.5 172.58h0M146.8 171.5h0M147.1 170.28h0M147.4 168.9h0M147.7 167.37h0M148 165.67h0M148.3 163.78h0M148.6 161.69h0M148.9 159.4h0M149.2 156.91h0M149.5 154.19h0M149.8 151.26h0M150.1 148.1h0M150.4 144.71h0M150.7 141.11h0M151 137.29h0M151.3 133.27h0M151.6 129.06h0M151.9 124.68h0M152.2 120.13h0M152.5 115.46h0M152.8 110.69h0M153.1 105.83h0M153.4 100.94h0M153.7 96.04h0M154 91.18h0M154.3 86.39h0M154.6 81.7h0M154.9 77.17h0M155.2 72.84h0M155.5 68.74h0M155.8 64.91h0M156.1 61.39h0M156.4 58.21h0M156.7 55.41h0M157 53.01h0M157.3 51.03h0M157.6 49.49h0M157.9 48.42h0M158.2 47.82h0M158.5 47.69h0M158.8 48.05h0M159.1 48.88h0M159.4 50.19h0M159.7 51.97h0M160 54.2h0M160.3 56.87h0M160.6 59.95h0M160.9 63.42h0M161.2 67.25h0M161.5 71.41h0M161.8 75.85h0M162.1 80.53h0M162.4 85.41h0M162.7 90.44h0M163 95.56h0M163.3 100.74h0M163.6 105.91h0M163.9 111.04h0M164.2 116.08h0M164.5 121h0M164.8 125.76h0M165.1 130.33h0M165.4 134.7h0M165.7 138.84h0M166 142.75h0M166.3 146.41h0M166.6 149.83h0M166.9 153h0M167.2 155.92h0M167.5 158.61h0M167.8 161.07h0M168.1 163.32h0M168.4 165.35h0M168.7 167.19h0M169 168.85h0M169.3 170.33h0M169.6 171.66h0M169.9 172.84h0M170.2 173.9h0M170.5 174.83h0M170.8 175.65h0M171.1 176.38h0M171.4 177.02h0M171.7 177.58h0M172 178.07h0M172.3 178.51h0M172.6 178.88h0M172.9 179.21h0M173.2 179.5h0M173.5 179.76h0M173.8 179.98h0M174.1 180.17h0M174.4 180.35h0M174.7 180.5h0M175 180.63h0M175.3 180.75h0M175.6 180.86h0M175.9 180.96h0M176.2 181.04h0M176.5 181.12h0M176.8 181.19h0M177.1 181.26h0M177.4 181.32h0M177.7 181.37h0M178 181.43h0M178.3 181.47h0M178.6 181.52h0M178.9 181.56h0M179.2 181.6h0M179.5 181.64h0M179.8 181.67h0M180.1 181.71h0M180.4 181.74h0M180.7 181.77h0M181 181.8h0M181.3 181.82h0M181.6 181.85h0M181.9 181.87h0M182.2 181.9h0M182.5 181.92h0M182.8 181.94h0M183.1 181.97h0M183.4 181.99h0M183.7 182h0M184 182.02h0M184.3 182.04h0M184.6 182.06h0M184.9 182.08h0M185.2 182.09h0M185.5 182.11h0M185.8 182.12h0M186.1 182.14h0M186.4 182.15h0M186.7 182.17h0M187 182.18h0M187.3 182.19h0M187.6 182.2h0M187.9 182.22h0M188.2 182.23h0M188.5 182.24h0M188.8 182.25h0M189.1 182.26h0M189.4 182.27h0M189.7 182.28h0M190 182.29h0M190.3 182.3h0M190.6 182.31h0M190.9 182.32h0M191.2 182.32h0M191.5 182.33h0M191.8 182.34h0M192.1 182.35h0M192.4 182.36h0M192.7 182.36h0M193 182.37h0M193.3 182.38h0M193.6 182.38h0M193.9 182.39h0M194.2 182.4h0M194.5 182.4h0M194.8 182.41h0M195.1 182.42h0M195.4 182.42h0M195.7 182.43h0M196 182.43h0M196.3 182.44h0M196.6 182.44h0M196.9 182.45h0M197.2 182.45h0M197.5 182.46h0M197.8 182.46h0M198.1 182.47h0M198.4 182.47h0M198.7 182.48h0M199 182.48h0M199.3 182.48h0M199.6 182.49h0M199.9 182.49h0M200.2 182.5h0M200.5 182.5h0M200.8 182.5h0M201.1 182.51h0M201.4 182.51h0M201.7 182.52h0M202 182.52h0M202.3 182.52h0M202.6 182.53h0M202.9 182.53h0M203.2 182.53h0M203.5 182.54h0M203.8 182.54h0M204.1 182.54h0M204.4 182.54h0M204.7 182.55h0M205 182.55h0M205.3 182.55h0M205.6 182.56h0M205.9 182.56h0M206.2 182.56h0M206.5 182.56h0M206.8 182.57h0M207.1 182.57h0M207.4 182.57h0M207.7 182.57h0M208 182.58h0M208.3 182.58h0M208.6 182.58h0M208.9 182.58h0M209.2 182.58h0M209.5 182.59h0M209.8 182.59h0M210.1 182.59h0M210.4 182.59h0M210.7 182.59h0M211 182.6h0M211.3 182.6h0M211.6 182.6h0M211.9 182.6h0M212.2 182.6h0M212.5 182.61h0M212.8 182.61h0M213.1 182.61h0M213.4 182.61h0" fill="none" stroke="#6630cc" stroke-width="3.7" stroke-linecap="round"/>
<path d="M55.3,171.15 L55.6,171.19 L55.9,171.22 L56.2,171.26 L56.5,171.29 L56.8,171.33 L57.1,171.36 L57.4,171.4 L57.7,171.43 L58,171.47 L58.3,171.5 L58.6,171.54 L58.9,171.57 L59.2,171.6 L59.5,171.64 L59.8,171.67 L60.1,171.71 L60.4,171.74 L60.7,171.78 L61,171.81 L61.3,171.84 L61.6,171.88 L61.9,171.91 L62.2,171.95 L62.5,171.98 L62.8,172.01 L63.1,172.05 L63.4,172.08 L63.7,172.12 L64,172.15 L64.3,172.18 L64.6,172.22 L64.9,172.25 L65.2,172.28 L65.5,172.31 L65.8,172.35 L66.1,172.38 L66.4,172.41 L66.7,172.45 L67,172.48 L67.3,172.51 L67.6,172.54 L67.9,172.57 L68.2,172.61 L68.5,172.64 L68.8,172.67 L69.1,172.7 L69.4,172.73 L69.7,172.76 L70,172.8 L70.3,172.83 L70.6,172.86 L70.9,172.89 L71.2,172.92 L71.5,172.95 L71.8,172.98 L72.1,173.01 L72.4,173.04 L72.7,173.07 L73,173.09 L73.3,173.12 L73.6,173.15 L73.9,173.18 L74.2,173.2 L74.5,173.23 L74.8,173.26 L75.1,173.28 L75.4,173.3 L75.7,173.32 L76,173.34 L76.3,173.36 L76.6,173.38 L76.9,173.39 L77.2,173.4 L77.5,173.4 L77.8,173.4 L78.1,173.39 L78.4,173.37 L78.7,173.35 L79,173.31 L79.3,173.26 L79.6,173.16 L79.9,173.04 L80.2,172.9 L80.5,172.73 L80.8,172.53 L81.1,172.31 L81.4,172.04 L81.7,171.74 L82,171.38 L82.3,170.97 L82.6,170.5 L82.9,169.97 L83.2,169.35 L83.5,168.66 L83.8,167.87 L84.1,166.99 L84.4,165.99 L84.7,164.89 L85,163.66 L85.3,162.3 L85.6,160.81 L85.9,159.17 L86.2,157.39 L86.5,155.45 L86.8,153.36 L87.1,151.13 L87.4,148.73 L87.7,146.19 L88,143.51 L88.3,140.7 L88.6,137.75 L88.9,134.7 L89.2,131.55 L89.5,128.32 L89.8,125.03 L90.1,121.71 L90.4,118.37 L90.7,115.04 L91,111.75 L91.3,108.53 L91.6,105.4 L91.9,102.4 L92.2,99.55 L92.5,96.88 L92.8,94.41 L93.1,92.17 L93.4,90.18 L93.7,88.47 L94,87.04 L94.3,85.92 L94.6,85.11 L94.9,84.63 L95.2,84.48 L95.5,84.66 L95.8,85.18 L96.1,86.02 L96.4,87.2 L96.7,88.69 L97,90.49 L97.3,92.59 L97.6,94.96 L97.9,97.59 L98.2,100.45 L98.5,103.52 L98.8,106.77 L99.1,110.17 L99.4,113.68 L99.7,117.27 L100,120.91 L100.3,124.56 L100.6,128.19 L100.9,131.77 L101.2,135.27 L101.5,138.67 L101.8,141.95 L102.1,145.09 L102.4,148.07 L102.7,150.89 L103,153.54 L103.3,156.02 L103.6,158.32 L103.9,160.45 L104.2,162.42 L104.5,164.22 L104.8,165.86 L105.1,167.36 L105.4,168.71 L105.7,169.93 L106,171.03 L106.3,172.01 L106.6,172.89 L106.9,173.68 L107.2,174.37 L107.5,174.99 L107.8,175.53 L108.1,176.01 L108.4,176.43 L108.7,176.8 L109,177.13 L109.3,177.41 L109.6,177.66 L109.9,177.88 L110.2,178.07 L110.5,178.24 L110.8,178.39 L111.1,178.52 L111.4,178.63 L111.7,178.74 L112,178.83 L112.3,178.91 L112.6,178.98 L112.9,179.04 L113.2,179.1 L113.5,179.16 L113.8,179.2 L114.1,179.25 L114.4,179.29 L114.7,179.33 L115,179.36 L115.3,179.39 L115.6,179.42 L115.9,179.45 L116.2,179.48 L116.5,179.5 L116.8,179.52 L117.1,179.55 L117.4,179.57 L117.7,179.58 L118,179.6 L118.3,179.62 L118.6,179.64 L118.9,179.65 L119.2,179.66 L119.5,179.68 L119.8,179.69 L120.1,179.7 L120.4,179.71 L120.7,179.72 L121,179.73 L121.3,179.74 L121.6,179.75 L121.9,179.76 L122.2,179.77 L122.5,179.78 L122.8,179.78 L123.1,179.79 L123.4,179.8 L123.7,179.8 L124,179.81 L124.3,179.81 L124.6,179.81 L124.9,179.82 L125.2,179.82 L125.5,179.82 L125.8,179.83 L126.1,179.83 L126.4,179.83 L126.7,179.83 L127,179.83 L127.3,179.84 L127.6,179.84 L127.9,179.84 L128.2,179.84 L128.5,179.84 L128.8,179.84 L129.1,179.84 L129.4,179.83 L129.7,179.83 L130,179.83 L130.3,179.83 L130.6,179.83 L130.9,179.82 L131.2,179.82 L131.5,179.82 L131.8,179.81 L132.1,179.81 L132.4,179.8 L132.7,179.8 L133,179.79 L133.3,179.79 L133.6,179.78 L133.9,179.78 L134.2,179.77 L134.5,179.76 L134.8,179.75 L135.1,179.75 L135.4,179.74 L135.7,179.73 L136,179.72 L136.3,179.71 L136.6,179.7 L136.9,179.68 L137.2,179.67 L137.5,179.66 L137.8,179.64 L138.1,179.62 L138.4,179.61 L138.7,179.58 L139,179.56 L139.3,179.53 L139.6,179.5 L139.9,179.47 L140.2,179.43 L140.5,179.38 L140.8,179.33 L141.1,179.27 L141.4,179.19 L141.7,179.11 L142,179.01 L142.3,178.89 L142.6,178.75 L142.9,178.58 L143.2,178.39 L143.5,178.16 L143.8,177.9 L144.1,177.59 L144.4,177.23 L144.7,176.81 L145,176.32 L145.3,175.76 L145.6,175.12 L145.9,174.38 L146.2,173.54 L146.5,172.58 L146.8,171.5 L147.1,170.28 L147.4,168.9 L147.7,167.37 L148,165.67 L148.3,163.78 L148.6,161.69 L148.9,159.4 L149.2,156.91 L149.5,154.19 L149.8,151.26 L150.1,148.1 L150.4,144.71 L150.7,141.11 L151,137.29 L151.3,133.27 L151.6,129.06 L151.9,124.68 L152.2,120.13 L152.5,115.46 L152.8,110.69 L153.1,105.83 L153.4,100.94 L153.7,96.04 L154,91.18 L154.3,86.39 L154.6,81.7 L154.9,77.17 L155.2,72.84 L155.5,68.74 L155.8,64.91 L156.1,61.39 L156.4,58.21 L156.7,55.41 L157,53.01 L157.3,51.03 L157.6,49.49 L157.9,48.42 L158.2,47.82 L158.5,47.69 L158.8,48.05 L159.1,48.88 L159.4,50.19 L159.7,51.97 L160,54.2 L160.3,56.87 L160.6,59.95 L160.9,63.42 L161.2,67.25 L161.5,71.41 L161.8,75.85 L162.1,80.53 L162.4,85.41 L162.7,90.44 L163,95.56 L163.3,100.74 L163.6,105.91 L163.9,111.04 L164.2,116.08 L164.5,121 L164.8,125.76 L165.1,130.33 L165.4,134.7 L165.7,138.84 L166,142.75 L166.3,146.41 L166.6,149.83 L166.9,153 L167.2,155.92 L167.5,158.61 L167.8,161.07 L168.1,163.32 L168.4,165.35 L168.7,167.19 L169,168.85 L169.3,170.33 L169.6,171.66 L169.9,172.84 L170.2,173.9 L170.5,174.83 L170.8,175.65 L171.1,176.38 L171.4,177.02 L171.7,177.58 L172,178.07 L172.3,178.51 L172.6,178.88 L172.9,179.21 L173.2,179.5 L173.5,179.76 L173.8,179.98 L174.1,180.17 L174.4,180.35 L174.7,180.5 L175,180.63 L175.3,180.75 L175.6,180.86 L175.9,180.96 L176.2,181.04 L176.5,181.12 L176.8,181.19 L177.1,181.26 L177.4,181.32 L177.7,181.37 L178,181.43 L178.3,181.47 L178.6,181.52 L178.9,181.56 L179.2,181.6 L179.5,181.64 L179.8,181.67 L180.1,181.71 L180.4,181.74 L180.7,181.77 L181,181.8 L181.3,181.82 L181.6,181.85 L181.9,181.87 L182.2,181.9 L182.5,181.92 L182.8,181.94 L183.1,181.97 L183.4,181.99 L183.7,182 L184,182.02 L184.3,182.04 L184.6,182.06 L184.9,182.08 L185.2,182.09 L185.5,182.11 L185.8,182.12 L186.1,182.14 L186.4,182.15 L186.7,182.17 L187,182.18 L187.3,182.19 L187.6,182.2 L187.9,182.22 L188.2,182.23 L188.5,182.24 L188.8,182.25 L189.1,182.26 L189.4,182.27 L189.7,182.28 L190,182.29 L190.3,182.3 L190.6,182.31 L190.9,182.32 L191.2,182.32 L191.5,182.33 L191.8,182.34 L192.1,182.35 L192.4,182.36 L192.7,182.36 L193,182.37 L193.3,182.38 L193.6,182.38 L193.9,182.39 L194.2,182.4 L194.5,182.4 L194.8,182.41 L195.1,182.42 L195.4,182.42 L195.7,182.43 L196,182.43 L196.3,182.44 L196.6,182.44 L196.9,182.45 L197.2,182.45 L197.5,182.46 L197.8,182.46 L198.1,182.47 L198.4,182.47 L198.7,182.48 L199,182.48 L199.3,182.48 L199.6,182.49 L199.9,182.49 L200.2,182.5 L200.5,182.5 L200.8,182.5 L201.1,182.51 L201.4,182.51 L201.7,182.52 L202,182.52 L202.3,182.52 L202.6,182.53 L202.9,182.53 L203.2,182.53 L203.5,182.54 L203.8,182.54 L204.1,182.54 L204.4,182.54 L204.7,182.55 L205,182.55 L205.3,182.55 L205.6,182.56 L205.9,182.56 L206.2,182.56 L206.5,182.56 L206.8,182.57 L207.1,182.57 L207.4,182.57 L207.7,182.57 L208,182.58 L208.3,182.58 L208.6,182.58 L208.9,182.58 L209.2,182.58 L209.5,182.59 L209.8,182.59 L210.1,182.59 L210.4,182.59 L210.7,182.59 L211,182.6 L211.3,182.6 L211.6,182.6 L211.9,182.6 L212.2,182.6 L212.5,182.61 L212.8,182.61 L213.1,182.61 L213.4,182.61" fill="none" stroke="#140628" stroke-width="1.9" stroke-linejoin="round"/>
</g>
<g transform="translate(0,0)">
<rect x="36.3" y="10.8" width="207.2" height="176.8" fill="none" stroke="#5c5c5c" stroke-width="1.7"/>
<path d="M55.3,187.6v-3.5M74.05,187.6v-2.2M92.8,187.6v-3.5M111.55,187.6v-2.2M130.3,187.6v-3.5M149.05,187.6v-2.2M167.8,187.6v-3.5M186.55,187.6v-2.2M205.3,187.6v-3.5M224.05,187.6v-2.2M242.8,187.6v-3.5" stroke="#5c5c5c" stroke-width="1.2"/>
<text x="55.3" y="203.5" text-anchor="middle" font-size="14">500</text>
<text x="92.8" y="203.5" text-anchor="middle" font-size="14">495</text>
<text x="130.3" y="203.5" text-anchor="middle" font-size="14">490</text>
<text x="167.8" y="203.5" text-anchor="middle" font-size="14">485</text>
<text x="205.3" y="203.5" text-anchor="middle" font-size="14">480</text>
<text x="242.8" y="203.5" text-anchor="middle" font-size="14">475</text>
</g>
<g transform="translate(0,0)" font-size="12.5">
<g transform="translate(0,0)">
<circle cx="53" cy="17.4" r="2" fill="#6a20c0"/>
<path d="M39.8,32.8H66.2" stroke="#36e436" stroke-width="2.1"/>
<path d="M39.8,48.4H66.2" stroke="#000" stroke-width="2.1"/>
<path d="M39.8,65.4H66.2" stroke="#e4201c" stroke-width="2.1"/>
<path d="M39.8,82.8H66.2" stroke="#1a1ae0" stroke-width="2.1"/>
<path d="M39.8,100.3H66.2" stroke="#2a8a2a" stroke-width="2.1"/>
<g transform="translate(0,0)">
<text x="72.3" y="21.9">measured date</text>
<text x="72.3" y="36.9">background</text>
<text x="72.3" y="52.5">fitted date</text>
<text x="72.3" y="70">Sn<tspan font-size="8.5" dy="-5.5">4+</tspan></text>
<text x="72.3" y="87">Sn<tspan font-size="8.5" dy="-5.5">2+</tspan></text>
<text x="72.3" y="105">Sn<tspan font-size="8.5" dy="-5.5">0</tspan></text>
</g>
</g>
<text x="241.5" y="28.3" text-anchor="end" font-size="14.3">185°C</text>
<g class="fr" font-weight="normal" font-size="14">
<text x="171.5" y="62.2">Sn<tspan font-size="10" dx="0.8" dy="-4.3">4+</tspan></text>
<path d="M171.7,67.7H200.3" stroke="#333" stroke-width="1"/>
<text x="171.5" y="80.8">Sn<tspan font-size="10" dx="0.8" dy="-4.3">2+</tspan></text>
<text x="205.4" y="73.1" font-size="16">=</text>
<text x="219" y="71.5" font-size="13.8" textLength="22.4" lengthAdjust="spacingAndGlyphs">1.03</text>
</g>
</g>
<g transform="translate(264,0)">
<rect x="36.3" y="10.8" width="207.2" height="176.8" fill="none" stroke="#5c5c5c" stroke-width="1.7"/>
<path d="M55.3,187.6v-3.5M74.05,187.6v-2.2M92.8,187.6v-3.5M111.55,187.6v-2.2M130.3,187.6v-3.5M149.05,187.6v-2.2M167.8,187.6v-3.5M186.55,187.6v-2.2M205.3,187.6v-3.5M224.05,187.6v-2.2M242.8,187.6v-3.5" stroke="#5c5c5c" stroke-width="1.2"/>
<text x="55.3" y="203.5" text-anchor="middle" font-size="14">500</text>
<text x="92.8" y="203.5" text-anchor="middle" font-size="14">495</text>
<text x="130.3" y="203.5" text-anchor="middle" font-size="14">490</text>
<text x="167.8" y="203.5" text-anchor="middle" font-size="14">485</text>
<text x="205.3" y="203.5" text-anchor="middle" font-size="14">480</text>
<text x="242.8" y="203.5" text-anchor="middle" font-size="14">475</text>
</g>
<g transform="translate(264,0)" font-size="12.5">
<g transform="translate(-0.9,1.3)">
<circle cx="53" cy="17.4" r="2" fill="#6a20c0"/>
<path d="M39.8,32.8H66.2" stroke="#36e436" stroke-width="2.1"/>
<path d="M39.8,48.4H66.2" stroke="#000" stroke-width="2.1"/>
<path d="M39.8,65.4H66.2" stroke="#e4201c" stroke-width="2.1"/>
<path d="M39.8,82.8H66.2" stroke="#1a1ae0" stroke-width="2.1"/>
<path d="M39.8,100.3H66.2" stroke="#2a8a2a" stroke-width="2.1"/>
<g transform="translate(-1.1,0)">
<text x="72.3" y="21.9">measured date</text>
<text x="72.3" y="36.9">background</text>
<text x="72.3" y="52.5">fitted date</text>
<text x="72.3" y="70">Sn<tspan font-size="8.5" dy="-5.5">4+</tspan></text>
<text x="72.3" y="87">Sn<tspan font-size="8.5" dy="-5.5">2+</tspan></text>
<text x="72.3" y="105">Sn<tspan font-size="8.5" dy="-5.5">0</tspan></text>
</g>
</g>
<text x="240.70000000000002" y="28.3" text-anchor="end" font-size="14.3">205°C</text>
<g class="fr" font-weight="normal" font-size="14">
<text x="171.5" y="57.7">Sn<tspan font-size="10" dx="0.8" dy="-4.3">4+</tspan></text>
<path d="M171.7,63.2H200.3" stroke="#333" stroke-width="1"/>
<text x="171.5" y="76.5">Sn<tspan font-size="10" dx="0.8" dy="-4.3">2+</tspan></text>
<text x="205.4" y="68.8" font-size="16">=</text>
<text x="219" y="67.2" font-size="13.8" textLength="22.4" lengthAdjust="spacingAndGlyphs">0.69</text>
</g>
</g>
<g transform="translate(0,220)">
<rect x="36.3" y="10.8" width="207.2" height="176.8" fill="none" stroke="#5c5c5c" stroke-width="1.7"/>
<path d="M55.3,187.6v-3.5M74.05,187.6v-2.2M92.8,187.6v-3.5M111.55,187.6v-2.2M130.3,187.6v-3.5M149.05,187.6v-2.2M167.8,187.6v-3.5M186.55,187.6v-2.2M205.3,187.6v-3.5M224.05,187.6v-2.2M242.8,187.6v-3.5" stroke="#5c5c5c" stroke-width="1.2"/>
<text x="55.3" y="203.5" text-anchor="middle" font-size="14">500</text>
<text x="92.8" y="203.5" text-anchor="middle" font-size="14">495</text>
<text x="130.3" y="203.5" text-anchor="middle" font-size="14">490</text>
<text x="167.8" y="203.5" text-anchor="middle" font-size="14">485</text>
<text x="205.3" y="203.5" text-anchor="middle" font-size="14">480</text>
<text x="242.8" y="203.5" text-anchor="middle" font-size="14">475</text>
</g>
<g transform="translate(0,220)" font-size="12.5">
<g transform="translate(0,0.5)">
<circle cx="53" cy="17.4" r="2" fill="#6a20c0"/>
<path d="M39.8,32.8H66.2" stroke="#36e436" stroke-width="2.1"/>
<path d="M39.8,48.4H66.2" stroke="#000" stroke-width="2.1"/>
<path d="M39.8,65.4H66.2" stroke="#e4201c" stroke-width="2.1"/>
<path d="M39.8,82.8H66.2" stroke="#1a1ae0" stroke-width="2.1"/>
<path d="M39.8,100.3H66.2" stroke="#2a8a2a" stroke-width="2.1"/>
<g transform="translate(0,0)">
<text x="72.3" y="21.9">measured date</text>
<text x="72.3" y="36.9">background</text>
<text x="72.3" y="52.5">fitted date</text>
<text x="72.3" y="70">Sn<tspan font-size="8.5" dy="-5.5">4+</tspan></text>
<text x="72.3" y="87">Sn<tspan font-size="8.5" dy="-5.5">2+</tspan></text>
<text x="72.3" y="105">Sn<tspan font-size="8.5" dy="-5.5">0</tspan></text>
</g>
</g>
<text x="235.70000000000002" y="28.3" text-anchor="end" font-size="14.3">225°C</text>
<g class="fr" font-weight="normal" font-size="14">
<text x="171.5" y="57.5">Sn<tspan font-size="10" dx="0.8" dy="-4.3">4+</tspan></text>
<path d="M171.7,62.8H200.3" stroke="#333" stroke-width="1"/>
<text x="171.5" y="76.3">Sn<tspan font-size="10" dx="0.8" dy="-4.3">2+</tspan></text>
<text x="205.4" y="68.6" font-size="16">=</text>
<text x="219" y="67.0" font-size="13.8" textLength="22.4" lengthAdjust="spacingAndGlyphs">3.85</text>
</g>
</g>
<g transform="translate(264,220)">
<rect x="36.3" y="10.8" width="207.2" height="176.8" fill="none" stroke="#5c5c5c" stroke-width="1.7"/>
<path d="M55.3,187.6v-3.5M74.05,187.6v-2.2M92.8,187.6v-3.5M111.55,187.6v-2.2M130.3,187.6v-3.5M149.05,187.6v-2.2M167.8,187.6v-3.5M186.55,187.6v-2.2M205.3,187.6v-3.5M224.05,187.6v-2.2M242.8,187.6v-3.5" stroke="#5c5c5c" stroke-width="1.2"/>
<text x="55.3" y="203.5" text-anchor="middle" font-size="14">500</text>
<text x="92.8" y="203.5" text-anchor="middle" font-size="14">495</text>
<text x="130.3" y="203.5" text-anchor="middle" font-size="14">490</text>
<text x="167.8" y="203.5" text-anchor="middle" font-size="14">485</text>
<text x="205.3" y="203.5" text-anchor="middle" font-size="14">480</text>
<text x="242.8" y="203.5" text-anchor="middle" font-size="14">475</text>
</g>
<g transform="translate(264,220)" font-size="12.5">
<g transform="translate(0,0)">
<circle cx="53" cy="17.4" r="2" fill="#6a20c0"/>
<path d="M39.8,32.8H66.2" stroke="#36e436" stroke-width="2.1"/>
<path d="M39.8,48.4H66.2" stroke="#000" stroke-width="2.1"/>
<path d="M39.8,65.4H66.2" stroke="#e4201c" stroke-width="2.1"/>
<path d="M39.8,82.8H66.2" stroke="#1a1ae0" stroke-width="2.1"/>
<path d="M39.8,100.3H66.2" stroke="#2a8a2a" stroke-width="2.1"/>
<g transform="translate(0,0)">
<text x="72.3" y="21.9">measured date</text>
<text x="72.3" y="36.9">background</text>
<text x="72.3" y="52.5">fitted date</text>
<text x="72.3" y="70">Sn<tspan font-size="8.5" dy="-5.5">4+</tspan></text>
<text x="72.3" y="87">Sn<tspan font-size="8.5" dy="-5.5">2+</tspan></text>
<text x="72.3" y="105">Sn<tspan font-size="8.5" dy="-5.5">0</tspan></text>
</g>
</g>
<text x="235.3" y="28.3" text-anchor="end" font-size="14.3">245°C</text>
<g class="fr" font-weight="normal" font-size="14">
<text x="171.5" y="60.2">Sn<tspan font-size="10" dx="0.8" dy="-4.3">4+</tspan></text>
<path d="M171.7,65.8H200.3" stroke="#333" stroke-width="1"/>
<text x="171.5" y="78.5">Sn<tspan font-size="10" dx="0.8" dy="-4.3">2+</tspan></text>
<text x="205.4" y="70.3" font-size="16">=</text>
<text x="219" y="68.7" font-size="13.8" textLength="22.4" lengthAdjust="spacingAndGlyphs">7.12</text>
</g>
</g>

<text x="1.1" y="13.8" font-size="18">(a)</text>
<text x="264.5" y="15" font-size="18">(b)</text>
<text x="3" y="228.5" font-size="18">(c)</text>
<text x="264.2" y="228.5" font-size="18">(d)</text>
<text transform="translate(24.9,90.4) rotate(-90)" text-anchor="middle" font-size="13.7">Intensity (a.u.)</text>
<text transform="translate(284.6,90.4) rotate(-90)" text-anchor="middle" font-size="13.7">Intensity (a.u.)</text>
<text transform="translate(24.9,309.8) rotate(-90)" text-anchor="middle" font-size="13.7">Intensity (a.u.)</text>
<text transform="translate(284.6,310.1) rotate(-90)" text-anchor="middle" font-size="13.7">Intensity (a.u.)</text>
<text x="146.9" y="221.5" text-anchor="middle" font-size="15">Binding energy (eV)</text>
<text x="410.9" y="221.5" text-anchor="middle" font-size="15">Binding energy (eV)</text>
<text x="146.9" y="441.5" text-anchor="middle" font-size="15">Binding energy (eV)</text>
<text x="410.9" y="441.5" text-anchor="middle" font-size="15">Binding energy (eV)</text>

</svg>
</body></html>
